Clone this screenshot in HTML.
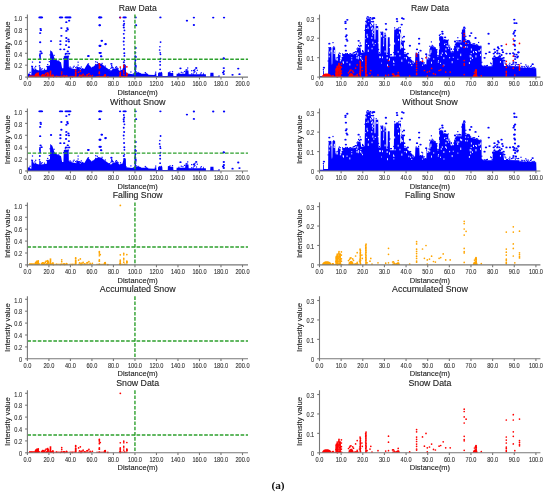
<!DOCTYPE html>
<html><head><meta charset="utf-8"><style>
html,body{margin:0;padding:0;background:#fff;}
svg{display:block;filter:blur(0.45px);}
text{font-family:"Liberation Sans", sans-serif;}
.tk{font-size:6.1px;fill:#333333;stroke:#333333;stroke-width:0.1px;}
.ti{font-size:9.1px;fill:#222;stroke:#222;stroke-width:0.12px;}
.xl{font-size:7.6px;fill:#222;stroke:#222;stroke-width:0.12px;}
</style></head><body>
<svg width="550" height="495" viewBox="0 0 550 495">
<defs><g id="blueL">
<g fill="#0000ff">
<polygon points="27.73,171.00 27.73,167.54 29.91,167.33 30.45,168.63 31.33,168.63 31.55,160.13 33.18,161.54 33.73,163.18 39.18,164.49 39.29,161.00 40.71,161.00 40.82,164.49 46.82,163.73 47.04,159.91 49.98,159.91 50.20,144.09 52.27,145.73 54.45,152.27 57.73,155.00 61.00,156.09 62.09,162.09 63.40,162.09 63.83,150.09 68.63,150.31 68.85,161.00 70.82,162.09 76.27,163.18 76.49,159.91 79.54,161.54 80.00,163.98 82.18,161.80 84.36,162.89 87.64,157.44 89.82,159.62 92.00,161.80 94.18,159.62 98.54,156.89 101.82,157.98 105.09,160.71 108.36,162.89 110.54,165.07 112.73,162.89 117.09,161.80 119.27,164.53 122.54,163.43 123.63,158.53 125.82,158.53 126.03,167.25 134.54,168.34 134.76,153.07 135.85,153.07 136.07,166.38 140.00,166.71 141.55,167.73 148.09,167.73 148.31,168.60 154.64,168.82 154.85,167.18 156.27,167.18 156.49,169.91 157.91,169.91 158.13,166.64 162.27,166.64 162.49,169.91 167.73,169.91 167.94,166.85 173.18,166.85 173.40,169.91 176.45,169.91 176.67,167.73 185.18,167.73 185.40,164.45 188.45,164.45 188.67,168.27 195.00,168.27 196.00,168.27 202.87,168.27 203.09,166.64 203.64,166.64 203.85,168.27 205.82,168.27 206.04,170.45 210.18,170.45 210.40,166.64 213.45,166.64 213.67,170.45 218.36,170.45 218.58,169.04 219.45,169.04 219.67,170.45 219.67,171.00"/>
<rect x="29.5" y="165.7" width="1.2" height="1.2"/>
<rect x="31.1" y="159.6" width="1.2" height="1.2"/>
<rect x="31.9" y="159.8" width="1.2" height="1.2"/>
<rect x="31.9" y="155.4" width="1.2" height="1.2"/>
<rect x="34.3" y="161.3" width="1.2" height="1.2"/>
<rect x="35.1" y="162.8" width="1.2" height="1.2"/>
<rect x="35.1" y="159.7" width="1.2" height="1.2"/>
<rect x="40.7" y="163.1" width="1.2" height="1.2"/>
<rect x="41.5" y="162.0" width="1.2" height="1.2"/>
<rect x="43.9" y="162.6" width="1.2" height="1.2"/>
<rect x="46.3" y="159.9" width="1.2" height="1.2"/>
<rect x="47.1" y="157.9" width="1.2" height="1.2"/>
<rect x="48.7" y="159.3" width="1.2" height="1.2"/>
<rect x="48.7" y="154.9" width="1.2" height="1.2"/>
<rect x="49.5" y="148.2" width="1.2" height="1.2"/>
<rect x="53.5" y="148.7" width="1.2" height="1.2"/>
<rect x="57.5" y="154.2" width="1.2" height="1.2"/>
<rect x="58.3" y="154.7" width="1.2" height="1.2"/>
<rect x="63.1" y="152.0" width="1.2" height="1.2"/>
<rect x="64.7" y="149.4" width="1.2" height="1.2"/>
<rect x="67.1" y="147.1" width="1.2" height="1.2"/>
<rect x="67.1" y="144.8" width="1.2" height="1.2"/>
<rect x="67.9" y="149.5" width="1.2" height="1.2"/>
<rect x="69.5" y="160.3" width="1.2" height="1.2"/>
<rect x="70.3" y="161.3" width="1.2" height="1.2"/>
<rect x="72.7" y="160.6" width="1.2" height="1.2"/>
<rect x="73.5" y="159.6" width="1.2" height="1.2"/>
<rect x="75.1" y="161.0" width="1.2" height="1.2"/>
<rect x="77.5" y="158.4" width="1.2" height="1.2"/>
<rect x="77.5" y="155.5" width="1.2" height="1.2"/>
<rect x="79.1" y="161.1" width="1.2" height="1.2"/>
<rect x="79.9" y="161.9" width="1.2" height="1.2"/>
<rect x="80.7" y="160.3" width="1.2" height="1.2"/>
<rect x="87.9" y="157.2" width="1.2" height="1.2"/>
<rect x="91.9" y="160.7" width="1.2" height="1.2"/>
<rect x="95.1" y="157.8" width="1.2" height="1.2"/>
<rect x="95.1" y="155.1" width="1.2" height="1.2"/>
<rect x="96.7" y="155.7" width="1.2" height="1.2"/>
<rect x="101.5" y="156.7" width="1.2" height="1.2"/>
<rect x="104.7" y="159.4" width="1.2" height="1.2"/>
<rect x="108.7" y="163.0" width="1.2" height="1.2"/>
<rect x="109.5" y="163.7" width="1.2" height="1.2"/>
<rect x="110.3" y="161.7" width="1.2" height="1.2"/>
<rect x="111.1" y="158.8" width="1.2" height="1.2"/>
<rect x="111.9" y="161.1" width="1.2" height="1.2"/>
<rect x="112.7" y="161.3" width="1.2" height="1.2"/>
<rect x="115.1" y="160.7" width="1.2" height="1.2"/>
<rect x="115.9" y="160.1" width="1.2" height="1.2"/>
<rect x="116.7" y="161.4" width="1.2" height="1.2"/>
<rect x="117.5" y="162.1" width="1.2" height="1.2"/>
<rect x="119.9" y="162.2" width="1.2" height="1.2"/>
<rect x="125.5" y="166.3" width="1.2" height="1.2"/>
<rect x="130.3" y="165.3" width="1.2" height="1.2"/>
<rect x="132.7" y="167.4" width="1.2" height="1.2"/>
<rect x="133.5" y="167.3" width="1.2" height="1.2"/>
<rect x="135.1" y="150.7" width="1.2" height="1.2"/>
<rect x="137.5" y="165.8" width="1.2" height="1.2"/>
<rect x="144.7" y="165.9" width="1.2" height="1.2"/>
<rect x="145.5" y="166.8" width="1.2" height="1.2"/>
<rect x="155.1" y="165.5" width="1.2" height="1.2"/>
<rect x="160.7" y="165.8" width="1.2" height="1.2"/>
<rect x="167.9" y="166.2" width="1.2" height="1.2"/>
<rect x="168.7" y="166.0" width="1.2" height="1.2"/>
<rect x="169.5" y="165.3" width="1.2" height="1.2"/>
<rect x="171.9" y="165.0" width="1.2" height="1.2"/>
<rect x="178.3" y="166.7" width="1.2" height="1.2"/>
<rect x="180.7" y="165.6" width="1.2" height="1.2"/>
<rect x="182.3" y="166.1" width="1.2" height="1.2"/>
<rect x="183.9" y="164.8" width="1.2" height="1.2"/>
<rect x="185.5" y="163.3" width="1.2" height="1.2"/>
<rect x="186.3" y="162.9" width="1.2" height="1.2"/>
<rect x="187.1" y="161.3" width="1.2" height="1.2"/>
<rect x="191.1" y="167.2" width="1.2" height="1.2"/>
<rect x="191.1" y="164.0" width="1.2" height="1.2"/>
<rect x="192.7" y="167.4" width="1.2" height="1.2"/>
<rect x="193.5" y="165.9" width="1.2" height="1.2"/>
<rect x="194.3" y="164.8" width="1.2" height="1.2"/>
<rect x="194.3" y="162.8" width="1.2" height="1.2"/>
<rect x="195.9" y="166.4" width="1.2" height="1.2"/>
<rect x="196.7" y="163.6" width="1.2" height="1.2"/>
<rect x="199.9" y="167.4" width="1.2" height="1.2"/>
<rect x="200.7" y="166.1" width="1.2" height="1.2"/>
</g>
<g fill="#fff">
</g>
<g fill="#0000ff">
<ellipse cx="39.45" cy="111.37" rx="1.15" ry="0.9"/>
<ellipse cx="40.30" cy="111.37" rx="1.15" ry="0.9"/>
<ellipse cx="41.15" cy="111.37" rx="1.15" ry="0.9"/>
<ellipse cx="42.00" cy="111.37" rx="1.15" ry="0.9"/>
<ellipse cx="40.58" cy="122.69" rx="1.15" ry="0.9"/>
<ellipse cx="40.87" cy="124.10" rx="1.15" ry="0.9"/>
<ellipse cx="40.16" cy="126.93" rx="1.15" ry="0.9"/>
<ellipse cx="40.16" cy="136.13" rx="1.15" ry="0.9"/>
<ellipse cx="40.58" cy="145.33" rx="1.15" ry="0.9"/>
<ellipse cx="41.57" cy="147.17" rx="1.15" ry="0.9"/>
<ellipse cx="51.05" cy="135.00" rx="1.15" ry="0.9"/>
<ellipse cx="59.97" cy="111.37" rx="1.15" ry="0.9"/>
<ellipse cx="60.96" cy="111.37" rx="1.15" ry="0.9"/>
<ellipse cx="62.09" cy="111.37" rx="1.15" ry="0.9"/>
<ellipse cx="61.38" cy="121.98" rx="1.15" ry="0.9"/>
<ellipse cx="61.38" cy="129.76" rx="1.15" ry="0.9"/>
<ellipse cx="60.39" cy="135.00" rx="1.15" ry="0.9"/>
<ellipse cx="60.39" cy="138.25" rx="1.15" ry="0.9"/>
<ellipse cx="60.39" cy="143.21" rx="1.15" ry="0.9"/>
<ellipse cx="64.21" cy="143.21" rx="1.15" ry="0.9"/>
<ellipse cx="65.63" cy="111.37" rx="1.15" ry="0.9"/>
<ellipse cx="66.62" cy="111.37" rx="1.15" ry="0.9"/>
<ellipse cx="67.61" cy="111.37" rx="1.15" ry="0.9"/>
<ellipse cx="68.60" cy="111.37" rx="1.15" ry="0.9"/>
<ellipse cx="69.59" cy="111.37" rx="1.15" ry="0.9"/>
<ellipse cx="70.30" cy="111.37" rx="1.15" ry="0.9"/>
<ellipse cx="69.17" cy="114.62" rx="1.15" ry="0.9"/>
<ellipse cx="66.34" cy="116.04" rx="1.15" ry="0.9"/>
<ellipse cx="67.33" cy="121.98" rx="1.15" ry="0.9"/>
<ellipse cx="67.75" cy="123.40" rx="1.15" ry="0.9"/>
<ellipse cx="66.34" cy="124.81" rx="1.15" ry="0.9"/>
<ellipse cx="66.34" cy="131.89" rx="1.15" ry="0.9"/>
<ellipse cx="68.46" cy="133.30" rx="1.15" ry="0.9"/>
<ellipse cx="68.88" cy="135.42" rx="1.15" ry="0.9"/>
<ellipse cx="66.34" cy="135.00" rx="1.15" ry="0.9"/>
<ellipse cx="66.05" cy="138.96" rx="1.15" ry="0.9"/>
<ellipse cx="68.88" cy="141.08" rx="1.15" ry="0.9"/>
<ellipse cx="67.75" cy="145.33" rx="1.15" ry="0.9"/>
<ellipse cx="66.05" cy="147.45" rx="1.15" ry="0.9"/>
<ellipse cx="69.17" cy="147.45" rx="1.15" ry="0.9"/>
<ellipse cx="67.04" cy="150.28" rx="1.15" ry="0.9"/>
<ellipse cx="88.27" cy="150.00" rx="1.15" ry="0.9"/>
<ellipse cx="99.59" cy="111.37" rx="1.15" ry="0.9"/>
<ellipse cx="99.59" cy="119.15" rx="1.15" ry="0.9"/>
<ellipse cx="99.59" cy="139.67" rx="1.15" ry="0.9"/>
<ellipse cx="99.59" cy="146.74" rx="1.15" ry="0.9"/>
<ellipse cx="99.26" cy="111.37" rx="1.15" ry="0.9"/>
<ellipse cx="100.25" cy="111.37" rx="1.15" ry="0.9"/>
<ellipse cx="101.24" cy="111.37" rx="1.15" ry="0.9"/>
<ellipse cx="99.83" cy="119.15" rx="1.15" ry="0.9"/>
<ellipse cx="101.67" cy="134.72" rx="1.15" ry="0.9"/>
<ellipse cx="100.25" cy="139.67" rx="1.15" ry="0.9"/>
<ellipse cx="105.49" cy="138.25" rx="1.15" ry="0.9"/>
<ellipse cx="100.68" cy="146.74" rx="1.15" ry="0.9"/>
<ellipse cx="101.24" cy="150.28" rx="1.15" ry="0.9"/>
<ellipse cx="120.06" cy="111.37" rx="1.15" ry="0.9"/>
<ellipse cx="123.60" cy="111.37" rx="1.15" ry="0.9"/>
<ellipse cx="124.59" cy="111.37" rx="1.15" ry="0.9"/>
<ellipse cx="125.58" cy="111.37" rx="1.15" ry="0.9"/>
<ellipse cx="135.63" cy="111.37" rx="1.15" ry="0.9"/>
<ellipse cx="136.05" cy="119.15" rx="1.15" ry="0.9"/>
<ellipse cx="160.39" cy="111.37" rx="1.15" ry="0.9"/>
<ellipse cx="186.94" cy="114.58" rx="1.15" ry="0.9"/>
<ellipse cx="193.89" cy="111.49" rx="1.15" ry="0.9"/>
<ellipse cx="193.89" cy="118.91" rx="1.15" ry="0.9"/>
<ellipse cx="213.21" cy="111.49" rx="1.15" ry="0.9"/>
<ellipse cx="224.03" cy="111.49" rx="1.15" ry="0.9"/>
<ellipse cx="223.72" cy="152.14" rx="1.15" ry="0.9"/>
<ellipse cx="180.45" cy="162.19" rx="1.15" ry="0.9"/>
<ellipse cx="196.21" cy="161.88" rx="1.15" ry="0.9"/>
<ellipse cx="193.89" cy="164.51" rx="1.15" ry="0.9"/>
<ellipse cx="186.94" cy="165.28" rx="1.15" ry="0.9"/>
<ellipse cx="238.25" cy="162.50" rx="1.15" ry="0.9"/>
<ellipse cx="239.49" cy="168.06" rx="1.15" ry="0.9"/>
<ellipse cx="232.53" cy="168.68" rx="1.15" ry="0.9"/>
<ellipse cx="88.48" cy="149.87" rx="1.15" ry="0.9"/>
<ellipse cx="101.90" cy="134.60" rx="1.15" ry="0.9"/>
<ellipse cx="105.61" cy="137.87" rx="1.15" ry="0.9"/>
<ellipse cx="100.15" cy="139.73" rx="1.15" ry="0.9"/>
<ellipse cx="100.15" cy="146.82" rx="1.15" ry="0.9"/>
<ellipse cx="101.03" cy="150.09" rx="1.15" ry="0.9"/>
<ellipse cx="111.39" cy="157.73" rx="1.15" ry="0.9"/>
<ellipse cx="111.94" cy="161.00" rx="1.15" ry="0.9"/>
<ellipse cx="111.39" cy="166.45" rx="1.15" ry="0.9"/>
<ellipse cx="223.80" cy="152.60" rx="1.15" ry="0.9"/>
<ellipse cx="223.80" cy="162.00" rx="1.15" ry="0.9"/>
<ellipse cx="223.90" cy="165.00" rx="1.15" ry="0.9"/>
<ellipse cx="223.80" cy="168.00" rx="1.15" ry="0.9"/>
<ellipse cx="223.10" cy="166.50" rx="1.15" ry="0.9"/>
<circle cx="123.84" cy="115.00" r="0.94"/>
<circle cx="124.20" cy="117.58" r="0.96"/>
<circle cx="123.61" cy="119.19" r="1.01"/>
<circle cx="123.83" cy="121.42" r="1.05"/>
<circle cx="124.44" cy="124.33" r="0.92"/>
<circle cx="123.75" cy="127.77" r="0.96"/>
<circle cx="124.12" cy="131.95" r="0.99"/>
<circle cx="123.66" cy="135.50" r="0.99"/>
<circle cx="123.90" cy="138.79" r="0.81"/>
<circle cx="124.07" cy="142.96" r="0.98"/>
<circle cx="124.31" cy="147.17" r="1.03"/>
<circle cx="124.40" cy="149.84" r="0.91"/>
<circle cx="124.48" cy="154.23" r="0.82"/>
<circle cx="123.82" cy="156.07" r="1.04"/>
<circle cx="124.23" cy="158.86" r="0.88"/>
<circle cx="123.99" cy="161.88" r="0.89"/>
<circle cx="124.18" cy="165.16" r="1.03"/>
<circle cx="135.73" cy="142.00" r="1.01"/>
<circle cx="135.47" cy="146.57" r="0.84"/>
<circle cx="135.76" cy="150.73" r="1.03"/>
<circle cx="135.51" cy="153.95" r="0.85"/>
<circle cx="135.37" cy="158.01" r="0.87"/>
<circle cx="135.65" cy="159.61" r="1.05"/>
<circle cx="135.60" cy="161.29" r="0.90"/>
<circle cx="135.09" cy="163.18" r="0.99"/>
<circle cx="134.84" cy="167.37" r="0.95"/>
<circle cx="135.52" cy="168.91" r="0.88"/>
<circle cx="160.58" cy="136.00" r="0.93"/>
<circle cx="159.91" cy="140.60" r="0.82"/>
<circle cx="159.63" cy="143.91" r="0.85"/>
<circle cx="160.21" cy="146.62" r="0.84"/>
<circle cx="160.47" cy="148.16" r="0.88"/>
<circle cx="160.50" cy="152.62" r="0.89"/>
<circle cx="160.12" cy="155.50" r="0.96"/>
<circle cx="160.16" cy="158.80" r="0.96"/>
<circle cx="160.11" cy="163.21" r="0.91"/>
<circle cx="159.84" cy="166.92" r="0.88"/>
<circle cx="40.02" cy="148.00" r="0.94"/>
<circle cx="39.92" cy="149.44" r="0.94"/>
<circle cx="40.12" cy="150.90" r="0.96"/>
<circle cx="40.13" cy="152.49" r="0.92"/>
<circle cx="39.85" cy="156.07" r="0.98"/>
<circle cx="39.52" cy="159.83" r="0.82"/>
<circle cx="65.46" cy="148.00" r="0.86"/>
<circle cx="65.09" cy="150.86" r="0.88"/>
<circle cx="64.81" cy="153.42" r="0.89"/>
<circle cx="64.80" cy="156.73" r="0.89"/>
<circle cx="135.13" cy="150.00" r="0.94"/>
<circle cx="135.41" cy="153.75" r="0.86"/>
<circle cx="135.34" cy="157.72" r="0.85"/>
<circle cx="135.80" cy="160.52" r="0.83"/>
<circle cx="135.43" cy="162.95" r="1.01"/>
<circle cx="135.96" cy="165.75" r="0.84"/>
<circle cx="135.75" cy="168.23" r="1.02"/>
</g></g>
<g id="blueR">
<g fill="#0000ff">
<polygon points="319.42,171.00 319.42,169.81 323.09,169.81 323.16,164.43 323.94,164.43 324.01,168.96 328.05,168.96 328.33,147.45 328.75,141.79 331.44,141.79 331.73,158.77 332.29,158.77 332.57,141.08 335.12,141.08 335.40,154.53 337.67,154.53 337.95,148.87 340.50,148.87 340.78,153.11 341.91,153.11 342.20,148.16 346.30,147.45 351.96,148.58 356.21,147.45 357.62,142.07 360.45,141.51 361.16,146.74 364.55,146.74 365.12,119.15 366.82,112.36 370.64,112.08 371.21,120.57 371.42,119.15 374.25,119.15 374.53,133.30 375.38,133.30 375.66,119.86 378.21,119.86 378.63,147.45 380.47,147.45 380.75,126.23 383.30,126.23 383.58,140.38 384.01,140.38 384.29,128.35 386.13,128.35 386.41,148.87 387.55,148.87 387.83,131.18 389.67,131.18 389.95,150.28 393.77,150.28 394.20,123.40 400.99,123.40 401.27,136.13 403.82,136.13 404.10,147.45 406.79,148.87 412.45,154.53 412.73,157.36 415.00,157.36 415.42,147.45 419.24,147.45 419.67,155.94 423.49,155.94 423.91,158.77 426.32,158.77 426.74,147.45 427.12,153.11 429.25,153.11 429.53,143.21 430.66,140.38 432.08,140.38 436.89,143.21 437.17,150.28 438.87,150.28 439.15,130.47 443.25,130.47 443.54,134.01 448.21,134.01 448.49,140.38 450.33,140.38 450.61,146.04 453.87,146.04 454.15,140.38 455.28,140.38 455.56,136.13 461.65,136.13 461.93,123.40 465.19,123.40 465.47,134.72 470.14,134.72 470.42,137.55 475.94,138.96 480.75,140.38 481.04,141.79 481.42,138.26 481.70,158.79 483.54,160.20 492.46,160.20 492.74,153.83 494.15,151.71 496.99,150.58 499.82,151.43 503.35,153.83 504.06,159.92 519.35,160.20 519.63,161.62 533.50,161.90 533.79,162.04 536.19,162.18 536.48,169.83 536.48,171.00"/>
<rect x="322.8" y="162.9" width="1.2" height="1.2"/>
<rect x="327.6" y="154.3" width="1.2" height="1.2"/>
<rect x="328.4" y="140.9" width="1.2" height="1.2"/>
<rect x="329.2" y="141.2" width="1.2" height="1.2"/>
<rect x="330.0" y="140.9" width="1.2" height="1.2"/>
<rect x="331.6" y="157.7" width="1.2" height="1.2"/>
<rect x="332.4" y="135.9" width="1.2" height="1.2"/>
<rect x="333.2" y="140.1" width="1.2" height="1.2"/>
<rect x="334.8" y="153.5" width="1.2" height="1.2"/>
<rect x="335.6" y="153.5" width="1.2" height="1.2"/>
<rect x="335.6" y="151.3" width="1.2" height="1.2"/>
<rect x="337.2" y="150.9" width="1.2" height="1.2"/>
<rect x="338.0" y="147.7" width="1.2" height="1.2"/>
<rect x="338.8" y="146.4" width="1.2" height="1.2"/>
<rect x="339.6" y="147.0" width="1.2" height="1.2"/>
<rect x="341.2" y="151.3" width="1.2" height="1.2"/>
<rect x="342.0" y="147.2" width="1.2" height="1.2"/>
<rect x="345.2" y="146.9" width="1.2" height="1.2"/>
<rect x="346.8" y="146.9" width="1.2" height="1.2"/>
<rect x="349.2" y="147.2" width="1.2" height="1.2"/>
<rect x="350.0" y="147.1" width="1.2" height="1.2"/>
<rect x="350.8" y="147.7" width="1.2" height="1.2"/>
<rect x="351.6" y="147.9" width="1.2" height="1.2"/>
<rect x="352.4" y="146.6" width="1.2" height="1.2"/>
<rect x="353.2" y="146.0" width="1.2" height="1.2"/>
<rect x="354.0" y="145.9" width="1.2" height="1.2"/>
<rect x="354.8" y="145.0" width="1.2" height="1.2"/>
<rect x="355.6" y="145.0" width="1.2" height="1.2"/>
<rect x="356.4" y="142.3" width="1.2" height="1.2"/>
<rect x="357.2" y="141.3" width="1.2" height="1.2"/>
<rect x="358.0" y="138.8" width="1.2" height="1.2"/>
<rect x="358.8" y="140.0" width="1.2" height="1.2"/>
<rect x="359.6" y="136.3" width="1.2" height="1.2"/>
<rect x="362.0" y="144.9" width="1.2" height="1.2"/>
<rect x="362.0" y="143.9" width="1.2" height="1.2"/>
<rect x="362.8" y="145.2" width="1.2" height="1.2"/>
<rect x="363.6" y="146.1" width="1.2" height="1.2"/>
<rect x="364.4" y="123.7" width="1.2" height="1.2"/>
<rect x="365.2" y="114.7" width="1.2" height="1.2"/>
<rect x="366.0" y="111.5" width="1.2" height="1.2"/>
<rect x="366.8" y="110.2" width="1.2" height="1.2"/>
<rect x="367.6" y="110.2" width="1.2" height="1.2"/>
<rect x="368.4" y="110.8" width="1.2" height="1.2"/>
<rect x="370.0" y="110.9" width="1.2" height="1.2"/>
<rect x="370.8" y="117.7" width="1.2" height="1.2"/>
<rect x="370.8" y="115.0" width="1.2" height="1.2"/>
<rect x="373.2" y="117.5" width="1.2" height="1.2"/>
<rect x="375.6" y="118.1" width="1.2" height="1.2"/>
<rect x="378.0" y="142.8" width="1.2" height="1.2"/>
<rect x="378.8" y="146.0" width="1.2" height="1.2"/>
<rect x="380.4" y="125.5" width="1.2" height="1.2"/>
<rect x="382.0" y="125.5" width="1.2" height="1.2"/>
<rect x="382.8" y="130.5" width="1.2" height="1.2"/>
<rect x="384.4" y="126.6" width="1.2" height="1.2"/>
<rect x="386.8" y="146.6" width="1.2" height="1.2"/>
<rect x="389.2" y="138.3" width="1.2" height="1.2"/>
<rect x="390.0" y="148.1" width="1.2" height="1.2"/>
<rect x="390.8" y="148.0" width="1.2" height="1.2"/>
<rect x="393.2" y="145.9" width="1.2" height="1.2"/>
<rect x="394.0" y="121.2" width="1.2" height="1.2"/>
<rect x="396.4" y="122.5" width="1.2" height="1.2"/>
<rect x="397.2" y="122.7" width="1.2" height="1.2"/>
<rect x="398.0" y="121.3" width="1.2" height="1.2"/>
<rect x="399.6" y="120.7" width="1.2" height="1.2"/>
<rect x="401.2" y="134.3" width="1.2" height="1.2"/>
<rect x="402.0" y="134.9" width="1.2" height="1.2"/>
<rect x="402.0" y="131.1" width="1.2" height="1.2"/>
<rect x="402.8" y="135.3" width="1.2" height="1.2"/>
<rect x="404.4" y="145.9" width="1.2" height="1.2"/>
<rect x="405.2" y="147.6" width="1.2" height="1.2"/>
<rect x="406.0" y="147.9" width="1.2" height="1.2"/>
<rect x="406.8" y="147.0" width="1.2" height="1.2"/>
<rect x="409.2" y="150.9" width="1.2" height="1.2"/>
<rect x="410.0" y="151.0" width="1.2" height="1.2"/>
<rect x="412.4" y="154.8" width="1.2" height="1.2"/>
<rect x="413.2" y="156.0" width="1.2" height="1.2"/>
<rect x="414.0" y="156.7" width="1.2" height="1.2"/>
<rect x="415.6" y="146.4" width="1.2" height="1.2"/>
<rect x="418.0" y="145.8" width="1.2" height="1.2"/>
<rect x="419.6" y="155.0" width="1.2" height="1.2"/>
<rect x="420.4" y="155.0" width="1.2" height="1.2"/>
<rect x="421.2" y="151.7" width="1.2" height="1.2"/>
<rect x="422.0" y="154.7" width="1.2" height="1.2"/>
<rect x="422.0" y="152.3" width="1.2" height="1.2"/>
<rect x="423.6" y="156.2" width="1.2" height="1.2"/>
<rect x="424.4" y="158.0" width="1.2" height="1.2"/>
<rect x="425.2" y="158.0" width="1.2" height="1.2"/>
<rect x="426.0" y="149.4" width="1.2" height="1.2"/>
<rect x="427.6" y="151.3" width="1.2" height="1.2"/>
<rect x="428.4" y="151.8" width="1.2" height="1.2"/>
<rect x="428.4" y="148.4" width="1.2" height="1.2"/>
<rect x="429.2" y="139.6" width="1.2" height="1.2"/>
<rect x="430.8" y="135.2" width="1.2" height="1.2"/>
<rect x="431.6" y="138.7" width="1.2" height="1.2"/>
<rect x="432.4" y="139.6" width="1.2" height="1.2"/>
<rect x="433.2" y="140.4" width="1.2" height="1.2"/>
<rect x="434.0" y="141.1" width="1.2" height="1.2"/>
<rect x="434.8" y="141.4" width="1.2" height="1.2"/>
<rect x="436.4" y="145.4" width="1.2" height="1.2"/>
<rect x="436.4" y="143.1" width="1.2" height="1.2"/>
<rect x="437.2" y="148.8" width="1.2" height="1.2"/>
<rect x="438.0" y="149.2" width="1.2" height="1.2"/>
<rect x="438.8" y="128.7" width="1.2" height="1.2"/>
<rect x="439.6" y="127.8" width="1.2" height="1.2"/>
<rect x="440.4" y="129.8" width="1.2" height="1.2"/>
<rect x="443.6" y="132.9" width="1.2" height="1.2"/>
<rect x="445.2" y="133.2" width="1.2" height="1.2"/>
<rect x="447.6" y="133.3" width="1.2" height="1.2"/>
<rect x="448.4" y="138.6" width="1.2" height="1.2"/>
<rect x="450.0" y="145.3" width="1.2" height="1.2"/>
<rect x="450.8" y="142.6" width="1.2" height="1.2"/>
<rect x="450.8" y="142.3" width="1.2" height="1.2"/>
<rect x="451.6" y="144.7" width="1.2" height="1.2"/>
<rect x="452.4" y="145.4" width="1.2" height="1.2"/>
<rect x="453.2" y="145.2" width="1.2" height="1.2"/>
<rect x="453.2" y="142.5" width="1.2" height="1.2"/>
<rect x="454.0" y="139.6" width="1.2" height="1.2"/>
<rect x="454.8" y="137.8" width="1.2" height="1.2"/>
<rect x="456.4" y="133.9" width="1.2" height="1.2"/>
<rect x="457.2" y="135.3" width="1.2" height="1.2"/>
<rect x="457.2" y="131.0" width="1.2" height="1.2"/>
<rect x="459.6" y="134.0" width="1.2" height="1.2"/>
<rect x="460.4" y="134.5" width="1.2" height="1.2"/>
<rect x="461.2" y="126.4" width="1.2" height="1.2"/>
<rect x="462.8" y="122.2" width="1.2" height="1.2"/>
<rect x="463.6" y="122.7" width="1.2" height="1.2"/>
<rect x="464.4" y="121.7" width="1.2" height="1.2"/>
<rect x="465.2" y="133.0" width="1.2" height="1.2"/>
<rect x="465.2" y="129.7" width="1.2" height="1.2"/>
<rect x="466.8" y="133.9" width="1.2" height="1.2"/>
<rect x="467.6" y="133.8" width="1.2" height="1.2"/>
<rect x="468.4" y="134.0" width="1.2" height="1.2"/>
<rect x="470.0" y="136.3" width="1.2" height="1.2"/>
<rect x="472.4" y="137.1" width="1.2" height="1.2"/>
<rect x="473.2" y="137.1" width="1.2" height="1.2"/>
<rect x="474.0" y="137.2" width="1.2" height="1.2"/>
<rect x="475.6" y="138.1" width="1.2" height="1.2"/>
<rect x="476.4" y="138.1" width="1.2" height="1.2"/>
<rect x="477.2" y="138.8" width="1.2" height="1.2"/>
<rect x="478.0" y="135.8" width="1.2" height="1.2"/>
<rect x="479.6" y="139.5" width="1.2" height="1.2"/>
<rect x="480.4" y="140.3" width="1.2" height="1.2"/>
<rect x="481.2" y="155.6" width="1.2" height="1.2"/>
<rect x="483.6" y="159.2" width="1.2" height="1.2"/>
<rect x="484.4" y="159.5" width="1.2" height="1.2"/>
<rect x="485.2" y="159.6" width="1.2" height="1.2"/>
<rect x="486.0" y="159.1" width="1.2" height="1.2"/>
<rect x="486.8" y="158.8" width="1.2" height="1.2"/>
<rect x="490.0" y="156.4" width="1.2" height="1.2"/>
<rect x="490.8" y="157.1" width="1.2" height="1.2"/>
<rect x="491.6" y="159.1" width="1.2" height="1.2"/>
<rect x="492.4" y="152.7" width="1.2" height="1.2"/>
<rect x="493.2" y="151.5" width="1.2" height="1.2"/>
<rect x="494.0" y="149.6" width="1.2" height="1.2"/>
<rect x="497.2" y="146.0" width="1.2" height="1.2"/>
<rect x="498.0" y="150.4" width="1.2" height="1.2"/>
<rect x="498.8" y="149.1" width="1.2" height="1.2"/>
<rect x="499.6" y="150.1" width="1.2" height="1.2"/>
<rect x="501.2" y="152.0" width="1.2" height="1.2"/>
<rect x="502.0" y="151.7" width="1.2" height="1.2"/>
<rect x="502.8" y="153.4" width="1.2" height="1.2"/>
<rect x="504.4" y="156.3" width="1.2" height="1.2"/>
<rect x="505.2" y="157.3" width="1.2" height="1.2"/>
<rect x="506.0" y="159.1" width="1.2" height="1.2"/>
<rect x="506.8" y="159.0" width="1.2" height="1.2"/>
<rect x="508.4" y="158.3" width="1.2" height="1.2"/>
<rect x="509.2" y="158.7" width="1.2" height="1.2"/>
<rect x="509.2" y="156.6" width="1.2" height="1.2"/>
<rect x="510.8" y="158.0" width="1.2" height="1.2"/>
<rect x="511.6" y="157.9" width="1.2" height="1.2"/>
<rect x="512.4" y="156.9" width="1.2" height="1.2"/>
<rect x="513.2" y="157.4" width="1.2" height="1.2"/>
<rect x="514.8" y="158.6" width="1.2" height="1.2"/>
<rect x="515.6" y="157.6" width="1.2" height="1.2"/>
<rect x="517.2" y="158.0" width="1.2" height="1.2"/>
<rect x="518.0" y="157.9" width="1.2" height="1.2"/>
<rect x="520.4" y="160.8" width="1.2" height="1.2"/>
<rect x="520.4" y="156.7" width="1.2" height="1.2"/>
<rect x="521.2" y="159.7" width="1.2" height="1.2"/>
<rect x="522.0" y="160.3" width="1.2" height="1.2"/>
<rect x="523.6" y="159.9" width="1.2" height="1.2"/>
<rect x="524.4" y="160.6" width="1.2" height="1.2"/>
<rect x="525.2" y="158.2" width="1.2" height="1.2"/>
<rect x="526.0" y="159.6" width="1.2" height="1.2"/>
<rect x="526.8" y="160.8" width="1.2" height="1.2"/>
<rect x="527.6" y="159.5" width="1.2" height="1.2"/>
<rect x="528.4" y="160.8" width="1.2" height="1.2"/>
<rect x="530.0" y="160.0" width="1.2" height="1.2"/>
<rect x="530.8" y="159.1" width="1.2" height="1.2"/>
<rect x="531.6" y="161.0" width="1.2" height="1.2"/>
<rect x="533.2" y="160.8" width="1.2" height="1.2"/>
<rect x="534.0" y="161.2" width="1.2" height="1.2"/>
</g>
<g fill="#fff">
<rect x="329.3" y="145.4" width="0.9" height="2.1"/>
<rect x="328.7" y="149.6" width="0.9" height="1.6"/>
<rect x="330.7" y="143.9" width="0.9" height="2.1"/>
<rect x="333.6" y="146.2" width="0.9" height="1.6"/>
<rect x="334.3" y="146.7" width="0.9" height="1.0"/>
<rect x="333.9" y="143.8" width="0.9" height="2.3"/>
<rect x="340.3" y="151.2" width="0.9" height="1.6"/>
<rect x="340.4" y="151.9" width="0.9" height="2.3"/>
<rect x="339.9" y="153.9" width="0.9" height="1.4"/>
<rect x="342.2" y="149.8" width="0.9" height="0.9"/>
<rect x="342.7" y="155.0" width="0.9" height="2.0"/>
<rect x="343.1" y="155.9" width="0.9" height="1.7"/>
<rect x="346.6" y="155.5" width="0.9" height="1.3"/>
<rect x="349.4" y="157.5" width="0.9" height="1.9"/>
<rect x="351.3" y="153.2" width="0.9" height="1.2"/>
<rect x="351.3" y="151.2" width="0.9" height="0.9"/>
<rect x="356.4" y="148.7" width="0.9" height="1.3"/>
<rect x="356.5" y="150.7" width="0.9" height="2.0"/>
<rect x="357.3" y="146.4" width="0.9" height="2.1"/>
<rect x="357.8" y="151.0" width="0.9" height="2.2"/>
<rect x="358.2" y="150.1" width="0.9" height="1.2"/>
<rect x="360.3" y="151.0" width="0.9" height="1.8"/>
<rect x="359.9" y="150.8" width="0.9" height="1.2"/>
<rect x="360.5" y="149.0" width="0.9" height="1.0"/>
<rect x="361.3" y="152.6" width="0.9" height="1.0"/>
<rect x="362.0" y="153.9" width="0.9" height="1.3"/>
<rect x="365.2" y="132.2" width="0.9" height="0.9"/>
<rect x="365.6" y="116.6" width="0.9" height="2.0"/>
<rect x="366.2" y="136.7" width="0.9" height="1.2"/>
<rect x="365.9" y="121.9" width="0.9" height="0.9"/>
<rect x="366.6" y="127.8" width="0.9" height="2.3"/>
<rect x="367.2" y="130.0" width="0.9" height="1.6"/>
<rect x="367.8" y="143.5" width="0.9" height="2.4"/>
<rect x="367.6" y="120.5" width="0.9" height="2.4"/>
<rect x="368.3" y="115.1" width="0.9" height="0.9"/>
<rect x="368.1" y="138.9" width="0.9" height="1.5"/>
<rect x="369.9" y="118.1" width="0.9" height="0.9"/>
<rect x="370.3" y="118.6" width="0.9" height="1.9"/>
<rect x="371.4" y="131.0" width="0.9" height="1.8"/>
<rect x="371.0" y="122.0" width="0.9" height="1.6"/>
<rect x="371.9" y="125.0" width="0.9" height="2.3"/>
<rect x="372.4" y="135.5" width="0.9" height="2.1"/>
<rect x="371.8" y="120.7" width="0.9" height="1.3"/>
<rect x="372.0" y="128.4" width="0.9" height="1.0"/>
<rect x="372.4" y="121.9" width="0.9" height="1.3"/>
<rect x="371.6" y="141.7" width="0.9" height="1.5"/>
<rect x="373.4" y="138.5" width="0.9" height="1.2"/>
<rect x="373.3" y="126.7" width="0.9" height="1.2"/>
<rect x="372.7" y="123.2" width="0.9" height="1.9"/>
<rect x="374.8" y="136.9" width="0.9" height="1.1"/>
<rect x="376.4" y="121.9" width="0.9" height="2.1"/>
<rect x="377.2" y="122.0" width="0.9" height="1.8"/>
<rect x="377.9" y="136.0" width="0.9" height="1.3"/>
<rect x="379.3" y="150.0" width="0.9" height="2.1"/>
<rect x="380.0" y="150.4" width="0.9" height="1.4"/>
<rect x="381.0" y="156.6" width="0.9" height="0.8"/>
<rect x="381.2" y="128.9" width="0.9" height="2.2"/>
<rect x="382.1" y="150.4" width="0.9" height="1.8"/>
<rect x="383.1" y="138.5" width="0.9" height="1.3"/>
<rect x="385.0" y="130.6" width="0.9" height="0.9"/>
<rect x="384.6" y="144.5" width="0.9" height="1.8"/>
<rect x="387.0" y="158.2" width="0.9" height="2.0"/>
<rect x="386.7" y="150.9" width="0.9" height="2.1"/>
<rect x="389.3" y="140.8" width="0.9" height="1.1"/>
<rect x="389.1" y="152.3" width="0.9" height="2.3"/>
<rect x="393.1" y="154.5" width="0.9" height="1.8"/>
<rect x="393.4" y="158.3" width="0.9" height="1.1"/>
<rect x="394.2" y="136.5" width="0.9" height="2.0"/>
<rect x="393.5" y="155.5" width="0.9" height="1.4"/>
<rect x="394.6" y="149.0" width="0.9" height="1.4"/>
<rect x="397.4" y="128.3" width="0.9" height="1.0"/>
<rect x="398.2" y="132.8" width="0.9" height="1.8"/>
<rect x="397.7" y="144.8" width="0.9" height="1.8"/>
<rect x="398.0" y="132.9" width="0.9" height="1.4"/>
<rect x="399.1" y="125.4" width="0.9" height="2.1"/>
<rect x="400.1" y="126.4" width="0.7" height="16.8"/>
<rect x="400.2" y="128.0" width="0.9" height="1.2"/>
<rect x="399.5" y="148.8" width="0.9" height="1.6"/>
<rect x="400.0" y="131.5" width="0.9" height="2.1"/>
<rect x="400.1" y="133.7" width="0.9" height="1.4"/>
<rect x="401.4" y="153.6" width="0.9" height="2.1"/>
<rect x="401.4" y="139.9" width="0.9" height="2.2"/>
<rect x="401.1" y="138.5" width="0.9" height="1.3"/>
<rect x="400.7" y="139.3" width="0.9" height="2.1"/>
<rect x="402.2" y="140.1" width="0.9" height="1.6"/>
<rect x="404.5" y="151.1" width="0.9" height="1.0"/>
<rect x="406.1" y="151.0" width="0.9" height="2.2"/>
<rect x="408.4" y="155.6" width="0.9" height="1.6"/>
<rect x="410.2" y="156.5" width="0.9" height="1.4"/>
<rect x="411.3" y="158.8" width="0.9" height="1.2"/>
<rect x="422.0" y="158.6" width="0.9" height="1.0"/>
<rect x="429.3" y="150.3" width="0.9" height="1.7"/>
<rect x="430.4" y="145.7" width="0.9" height="1.3"/>
<rect x="429.5" y="146.5" width="0.9" height="2.1"/>
<rect x="430.5" y="143.7" width="0.9" height="2.3"/>
<rect x="431.0" y="155.6" width="0.9" height="2.0"/>
<rect x="433.3" y="152.2" width="0.9" height="1.4"/>
<rect x="438.1" y="154.1" width="0.9" height="1.0"/>
<rect x="437.8" y="155.4" width="0.9" height="1.2"/>
<rect x="438.7" y="141.9" width="0.9" height="1.4"/>
<rect x="438.8" y="140.3" width="0.9" height="1.3"/>
<rect x="438.9" y="134.5" width="0.9" height="2.3"/>
<rect x="440.1" y="156.6" width="0.9" height="1.3"/>
<rect x="440.8" y="148.2" width="0.9" height="1.6"/>
<rect x="441.8" y="146.3" width="0.9" height="1.6"/>
<rect x="443.4" y="151.1" width="0.9" height="1.9"/>
<rect x="443.5" y="158.4" width="0.9" height="1.2"/>
<rect x="444.1" y="137.5" width="0.9" height="1.4"/>
<rect x="445.3" y="146.0" width="0.9" height="2.0"/>
<rect x="446.1" y="147.3" width="0.9" height="1.5"/>
<rect x="445.9" y="139.4" width="0.9" height="1.0"/>
<rect x="445.6" y="137.1" width="0.9" height="0.8"/>
<rect x="445.5" y="142.2" width="0.9" height="2.0"/>
<rect x="447.2" y="139.4" width="0.9" height="1.5"/>
<rect x="448.2" y="141.4" width="0.9" height="1.4"/>
<rect x="449.2" y="150.9" width="0.9" height="1.3"/>
<rect x="451.7" y="155.0" width="0.9" height="2.1"/>
<rect x="452.8" y="150.7" width="0.9" height="1.1"/>
<rect x="457.4" y="152.6" width="0.9" height="1.0"/>
<rect x="456.7" y="141.5" width="0.9" height="1.2"/>
<rect x="457.3" y="142.9" width="0.9" height="2.1"/>
<rect x="458.3" y="141.4" width="0.9" height="1.5"/>
<rect x="460.3" y="147.6" width="0.9" height="2.4"/>
<rect x="460.0" y="138.6" width="0.9" height="1.9"/>
<rect x="461.2" y="139.0" width="0.9" height="2.1"/>
<rect x="465.2" y="139.9" width="0.9" height="1.5"/>
<rect x="465.2" y="136.4" width="0.9" height="1.3"/>
<rect x="466.8" y="140.3" width="0.9" height="1.2"/>
<rect x="467.7" y="136.8" width="0.9" height="0.9"/>
<rect x="468.9" y="156.0" width="0.9" height="1.9"/>
<rect x="470.2" y="152.7" width="0.9" height="1.7"/>
<rect x="469.7" y="149.0" width="0.9" height="2.3"/>
<rect x="470.9" y="142.4" width="0.9" height="2.0"/>
<rect x="470.7" y="146.9" width="0.9" height="1.2"/>
<rect x="470.6" y="149.6" width="0.9" height="1.8"/>
<rect x="472.0" y="151.3" width="0.9" height="1.6"/>
<rect x="473.1" y="145.1" width="0.9" height="1.9"/>
<rect x="475.1" y="144.9" width="0.9" height="1.1"/>
<rect x="475.5" y="149.1" width="0.9" height="2.2"/>
<rect x="475.8" y="144.9" width="0.9" height="1.4"/>
<rect x="476.1" y="145.9" width="0.9" height="0.9"/>
<rect x="478.6" y="143.9" width="0.9" height="2.0"/>
<rect x="480.3" y="142.6" width="0.9" height="2.3"/>
<rect x="480.1" y="147.8" width="0.9" height="2.2"/>
<rect x="500.0" y="155.0" width="0.9" height="1.4"/>
<rect x="499.9" y="155.5" width="0.9" height="1.0"/>
</g>
<g fill="#0000ff">
<ellipse cx="323.96" cy="161.60" rx="1.15" ry="0.9"/>
<ellipse cx="329.34" cy="137.55" rx="1.15" ry="0.9"/>
<ellipse cx="345.47" cy="115.61" rx="1.15" ry="0.9"/>
<ellipse cx="347.31" cy="113.77" rx="1.15" ry="0.9"/>
<ellipse cx="345.47" cy="117.03" rx="1.15" ry="0.9"/>
<ellipse cx="345.89" cy="122.69" rx="1.15" ry="0.9"/>
<ellipse cx="346.60" cy="129.06" rx="1.15" ry="0.9"/>
<ellipse cx="345.89" cy="130.47" rx="1.15" ry="0.9"/>
<ellipse cx="346.60" cy="133.30" rx="1.15" ry="0.9"/>
<ellipse cx="347.31" cy="134.72" rx="1.15" ry="0.9"/>
<ellipse cx="345.47" cy="139.67" rx="1.15" ry="0.9"/>
<ellipse cx="345.89" cy="144.62" rx="1.15" ry="0.9"/>
<ellipse cx="358.63" cy="134.72" rx="1.15" ry="0.9"/>
<ellipse cx="360.75" cy="139.67" rx="1.15" ry="0.9"/>
<ellipse cx="372.78" cy="112.08" rx="1.15" ry="0.9"/>
<ellipse cx="374.19" cy="112.08" rx="1.15" ry="0.9"/>
<ellipse cx="372.42" cy="112.78" rx="1.15" ry="0.9"/>
<ellipse cx="373.84" cy="112.08" rx="1.15" ry="0.9"/>
<ellipse cx="373.13" cy="115.61" rx="1.15" ry="0.9"/>
<ellipse cx="385.87" cy="117.74" rx="1.15" ry="0.9"/>
<ellipse cx="386.15" cy="123.40" rx="1.15" ry="0.9"/>
<ellipse cx="396.90" cy="112.78" rx="1.15" ry="0.9"/>
<ellipse cx="397.19" cy="115.19" rx="1.15" ry="0.9"/>
<ellipse cx="402.14" cy="112.08" rx="1.15" ry="0.9"/>
<ellipse cx="403.55" cy="112.78" rx="1.15" ry="0.9"/>
<ellipse cx="401.71" cy="118.44" rx="1.15" ry="0.9"/>
<ellipse cx="397.19" cy="123.40" rx="1.15" ry="0.9"/>
<ellipse cx="403.98" cy="130.47" rx="1.15" ry="0.9"/>
<ellipse cx="403.98" cy="135.42" rx="1.15" ry="0.9"/>
<ellipse cx="409.92" cy="139.67" rx="1.15" ry="0.9"/>
<ellipse cx="419.12" cy="132.59" rx="1.15" ry="0.9"/>
<ellipse cx="419.12" cy="137.55" rx="1.15" ry="0.9"/>
<ellipse cx="417.00" cy="143.21" rx="1.15" ry="0.9"/>
<ellipse cx="420.53" cy="144.62" rx="1.15" ry="0.9"/>
<ellipse cx="426.19" cy="148.16" rx="1.15" ry="0.9"/>
<ellipse cx="404.26" cy="143.21" rx="1.15" ry="0.9"/>
<ellipse cx="407.80" cy="147.45" rx="1.15" ry="0.9"/>
<ellipse cx="442.28" cy="125.52" rx="1.15" ry="0.9"/>
<ellipse cx="442.56" cy="127.64" rx="1.15" ry="0.9"/>
<ellipse cx="445.11" cy="131.18" rx="1.15" ry="0.9"/>
<ellipse cx="431.67" cy="141.08" rx="1.15" ry="0.9"/>
<ellipse cx="455.02" cy="135.42" rx="1.15" ry="0.9"/>
<ellipse cx="459.26" cy="134.72" rx="1.15" ry="0.9"/>
<ellipse cx="471.29" cy="126.93" rx="1.15" ry="0.9"/>
<ellipse cx="469.87" cy="129.76" rx="1.15" ry="0.9"/>
<ellipse cx="475.53" cy="131.89" rx="1.15" ry="0.9"/>
<ellipse cx="464.21" cy="121.27" rx="1.15" ry="0.9"/>
<ellipse cx="463.51" cy="126.23" rx="1.15" ry="0.9"/>
<ellipse cx="488.51" cy="127.65" rx="1.15" ry="0.9"/>
<ellipse cx="488.79" cy="137.55" rx="1.15" ry="0.9"/>
<ellipse cx="489.50" cy="146.05" rx="1.15" ry="0.9"/>
<ellipse cx="494.45" cy="143.22" rx="1.15" ry="0.9"/>
<ellipse cx="498.70" cy="142.51" rx="1.15" ry="0.9"/>
<ellipse cx="501.53" cy="139.68" rx="1.15" ry="0.9"/>
<ellipse cx="510.02" cy="147.46" rx="1.15" ry="0.9"/>
<ellipse cx="514.27" cy="113.49" rx="1.15" ry="0.9"/>
<ellipse cx="516.39" cy="117.03" rx="1.15" ry="0.9"/>
<ellipse cx="513.56" cy="127.65" rx="1.15" ry="0.9"/>
<ellipse cx="514.98" cy="129.77" rx="1.15" ry="0.9"/>
<ellipse cx="514.27" cy="134.72" rx="1.15" ry="0.9"/>
<ellipse cx="514.98" cy="139.68" rx="1.15" ry="0.9"/>
<ellipse cx="518.52" cy="146.05" rx="1.15" ry="0.9"/>
<ellipse cx="517.81" cy="150.29" rx="1.15" ry="0.9"/>
<ellipse cx="532.67" cy="158.08" rx="1.15" ry="0.9"/>
<ellipse cx="484.55" cy="151.71" rx="1.15" ry="0.9"/>
<ellipse cx="485.96" cy="147.46" rx="1.15" ry="0.9"/>
<ellipse cx="497.29" cy="147.46" rx="1.15" ry="0.9"/>
<ellipse cx="500.12" cy="150.29" rx="1.15" ry="0.9"/>
<ellipse cx="495.87" cy="151.71" rx="1.15" ry="0.9"/>
<ellipse cx="502.95" cy="146.05" rx="1.15" ry="0.9"/>
<ellipse cx="506.49" cy="147.46" rx="1.15" ry="0.9"/>
<ellipse cx="514.50" cy="117.00" rx="1.15" ry="0.9"/>
<ellipse cx="515.10" cy="124.50" rx="1.15" ry="0.9"/>
<ellipse cx="514.10" cy="126.00" rx="1.15" ry="0.9"/>
<ellipse cx="514.60" cy="134.50" rx="1.15" ry="0.9"/>
<ellipse cx="514.40" cy="138.50" rx="1.15" ry="0.9"/>
<ellipse cx="515.00" cy="143.50" rx="1.15" ry="0.9"/>
<ellipse cx="514.30" cy="148.00" rx="1.15" ry="0.9"/>
<ellipse cx="515.30" cy="150.50" rx="1.15" ry="0.9"/>
<ellipse cx="493.75" cy="147.46" rx="1.15" ry="0.9"/>
<ellipse cx="495.16" cy="146.05" rx="1.15" ry="0.9"/>
<ellipse cx="497.29" cy="144.63" rx="1.15" ry="0.9"/>
<ellipse cx="499.41" cy="147.46" rx="1.15" ry="0.9"/>
<ellipse cx="501.53" cy="148.88" rx="1.15" ry="0.9"/>
<ellipse cx="503.65" cy="151.71" rx="1.15" ry="0.9"/>
<ellipse cx="494.45" cy="150.29" rx="1.15" ry="0.9"/>
<ellipse cx="498.70" cy="151.00" rx="1.15" ry="0.9"/>
<ellipse cx="496.58" cy="153.12" rx="1.15" ry="0.9"/>
<ellipse cx="500.82" cy="152.42" rx="1.15" ry="0.9"/>
<ellipse cx="493.04" cy="152.42" rx="1.15" ry="0.9"/>
<ellipse cx="502.24" cy="143.92" rx="1.15" ry="0.9"/>
<ellipse cx="497.99" cy="141.09" rx="1.15" ry="0.9"/>
<ellipse cx="504.36" cy="154.54" rx="1.15" ry="0.9"/>
<ellipse cx="513.80" cy="150.00" rx="1.15" ry="0.9"/>
<ellipse cx="515.10" cy="153.00" rx="1.15" ry="0.9"/>
<ellipse cx="516.50" cy="148.50" rx="1.15" ry="0.9"/>
<ellipse cx="517.30" cy="151.50" rx="1.15" ry="0.9"/>
<ellipse cx="513.50" cy="156.00" rx="1.15" ry="0.9"/>
<ellipse cx="515.90" cy="156.50" rx="1.15" ry="0.9"/>
<ellipse cx="513.10" cy="147.00" rx="1.15" ry="0.9"/>
<ellipse cx="518.30" cy="146.50" rx="1.15" ry="0.9"/>
</g></g></defs>
<rect width="550" height="495" fill="#fff"/>
<use href="#blueL" transform="translate(0 -93.90)"/>
<polygon points="28.54,77.10 28.94,76.52 29.54,76.18 30.38,76.00 31.63,76.00 32.52,76.21 33.12,76.55 33.52,77.10" fill="#ff0000"/>
<polygon points="33.12,77.10 33.62,76.55 34.36,76.49 35.11,77.10" fill="#ff0000"/>
<polygon points="34.86,77.10 35.36,76.79 38.59,76.73 39.08,77.10" fill="#ff0000"/>
<polygon points="41.67,77.10 41.97,76.40 42.57,76.00 43.16,75.81 43.86,76.06 44.26,76.55 44.55,77.10" fill="#ff0000"/>
<polygon points="63.35,77.10 63.70,76.70 65.44,76.61 66.43,76.24 67.03,76.40 67.43,77.10" fill="#ff0000"/>
<polygon points="103.48,77.10 103.97,76.40 104.47,76.09 105.22,76.00 105.71,76.40 106.11,77.10" fill="#ff0000"/>
<polygon points="44.31,77.10 44.80,76.61 46.54,76.55 47.04,77.10" fill="#ff0000"/>
<line x1="35.70" y1="74.25" x2="35.70" y2="77.10" stroke="#ff0000" stroke-width="1.7600000000000002"/>
<line x1="36.30" y1="73.64" x2="36.30" y2="77.10" stroke="#ff0000" stroke-width="1.7600000000000002"/>
<line x1="37.05" y1="72.81" x2="37.05" y2="77.10" stroke="#ff0000" stroke-width="1.7600000000000002"/>
<line x1="37.69" y1="73.64" x2="37.69" y2="77.10" stroke="#ff0000" stroke-width="1.7600000000000002"/>
<line x1="47.69" y1="72.11" x2="47.69" y2="77.10" stroke="#ff0000" stroke-width="1.6500000000000001"/>
<line x1="50.47" y1="70.58" x2="50.47" y2="77.10" stroke="#ff0000" stroke-width="1.6500000000000001"/>
<line x1="105.22" y1="74.86" x2="105.22" y2="77.10" stroke="#ff0000" stroke-width="1.6500000000000001"/>
<circle cx="43.06" cy="74.96" r="0.85" fill="#ff0000"/>
<circle cx="42.37" cy="75.39" r="0.85" fill="#ff0000"/>
<circle cx="43.91" cy="75.26" r="0.85" fill="#ff0000"/>
<circle cx="42.66" cy="75.02" r="0.85" fill="#ff0000"/>
<circle cx="41.82" cy="75.78" r="0.85" fill="#ff0000"/>
<circle cx="44.31" cy="75.69" r="0.85" fill="#ff0000"/>
<circle cx="66.53" cy="75.75" r="0.85" fill="#ff0000"/>
<circle cx="64.19" cy="76.18" r="0.85" fill="#ff0000"/>
<circle cx="38.29" cy="73.12" r="0.85" fill="#ff0000"/>
<circle cx="38.29" cy="74.10" r="0.85" fill="#ff0000"/>
<circle cx="38.29" cy="75.23" r="0.85" fill="#ff0000"/>
<circle cx="38.29" cy="75.97" r="0.85" fill="#ff0000"/>
<circle cx="35.75" cy="74.71" r="0.85" fill="#ff0000"/>
<circle cx="35.90" cy="75.94" r="0.85" fill="#ff0000"/>
<circle cx="37.39" cy="74.41" r="0.85" fill="#ff0000"/>
<circle cx="45.35" cy="74.37" r="0.85" fill="#ff0000"/>
<circle cx="46.15" cy="73.36" r="0.85" fill="#ff0000"/>
<circle cx="46.15" cy="76.33" r="0.85" fill="#ff0000"/>
<circle cx="48.68" cy="75.11" r="0.85" fill="#ff0000"/>
<circle cx="48.48" cy="74.10" r="0.85" fill="#ff0000"/>
<circle cx="47.29" cy="75.94" r="0.85" fill="#ff0000"/>
<circle cx="52.91" cy="75.11" r="0.85" fill="#ff0000"/>
<circle cx="52.51" cy="75.97" r="0.85" fill="#ff0000"/>
<circle cx="51.07" cy="76.46" r="0.85" fill="#ff0000"/>
<circle cx="53.50" cy="76.86" r="0.85" fill="#ff0000"/>
<circle cx="56.49" cy="76.46" r="0.85" fill="#ff0000"/>
<circle cx="60.32" cy="76.58" r="0.85" fill="#ff0000"/>
<circle cx="61.71" cy="72.02" r="0.85" fill="#ff0000"/>
<circle cx="61.71" cy="73.85" r="0.85" fill="#ff0000"/>
<circle cx="61.71" cy="76.46" r="0.85" fill="#ff0000"/>
<circle cx="63.75" cy="76.21" r="0.85" fill="#ff0000"/>
<circle cx="64.54" cy="76.58" r="0.85" fill="#ff0000"/>
<circle cx="72.25" cy="76.82" r="0.85" fill="#ff0000"/>
<circle cx="75.68" cy="70.00" r="0.85" fill="#ff0000"/>
<circle cx="75.68" cy="70.67" r="0.85" fill="#ff0000"/>
<circle cx="75.68" cy="72.29" r="0.85" fill="#ff0000"/>
<circle cx="75.68" cy="72.97" r="0.85" fill="#ff0000"/>
<circle cx="75.68" cy="73.64" r="0.85" fill="#ff0000"/>
<circle cx="75.68" cy="74.44" r="0.85" fill="#ff0000"/>
<circle cx="75.68" cy="75.11" r="0.85" fill="#ff0000"/>
<circle cx="75.68" cy="75.94" r="0.85" fill="#ff0000"/>
<circle cx="75.68" cy="76.27" r="0.85" fill="#ff0000"/>
<circle cx="80.35" cy="71.16" r="0.85" fill="#ff0000"/>
<circle cx="78.61" cy="72.23" r="0.85" fill="#ff0000"/>
<circle cx="79.56" cy="75.08" r="0.85" fill="#ff0000"/>
<circle cx="81.00" cy="75.57" r="0.85" fill="#ff0000"/>
<circle cx="82.09" cy="75.32" r="0.85" fill="#ff0000"/>
<circle cx="83.14" cy="74.44" r="0.85" fill="#ff0000"/>
<circle cx="81.00" cy="76.82" r="0.85" fill="#ff0000"/>
<circle cx="84.08" cy="76.06" r="0.85" fill="#ff0000"/>
<circle cx="85.03" cy="76.24" r="0.85" fill="#ff0000"/>
<circle cx="86.87" cy="75.08" r="0.85" fill="#ff0000"/>
<circle cx="87.66" cy="74.86" r="0.85" fill="#ff0000"/>
<circle cx="88.91" cy="73.73" r="0.85" fill="#ff0000"/>
<circle cx="90.15" cy="75.57" r="0.85" fill="#ff0000"/>
<circle cx="92.39" cy="75.57" r="0.85" fill="#ff0000"/>
<circle cx="99.35" cy="63.75" r="0.85" fill="#ff0000"/>
<circle cx="99.35" cy="64.45" r="0.85" fill="#ff0000"/>
<circle cx="99.35" cy="66.11" r="0.85" fill="#ff0000"/>
<circle cx="100.29" cy="66.81" r="0.85" fill="#ff0000"/>
<circle cx="99.35" cy="67.97" r="0.85" fill="#ff0000"/>
<circle cx="99.35" cy="72.05" r="0.85" fill="#ff0000"/>
<circle cx="99.35" cy="73.03" r="0.85" fill="#ff0000"/>
<circle cx="99.35" cy="73.43" r="0.85" fill="#ff0000"/>
<circle cx="99.35" cy="76.33" r="0.85" fill="#ff0000"/>
<circle cx="107.85" cy="76.73" r="0.85" fill="#ff0000"/>
<circle cx="104.97" cy="75.17" r="0.85" fill="#ff0000"/>
<circle cx="105.37" cy="75.48" r="0.85" fill="#ff0000"/>
<circle cx="104.47" cy="75.63" r="0.85" fill="#ff0000"/>
<circle cx="105.22" cy="74.86" r="0.85" fill="#ff0000"/>
<circle cx="120.28" cy="67.06" r="0.85" fill="#ff0000"/>
<circle cx="120.28" cy="72.26" r="0.85" fill="#ff0000"/>
<circle cx="120.28" cy="73.21" r="0.85" fill="#ff0000"/>
<circle cx="120.28" cy="74.10" r="0.85" fill="#ff0000"/>
<circle cx="120.28" cy="75.35" r="0.85" fill="#ff0000"/>
<circle cx="120.28" cy="75.75" r="0.85" fill="#ff0000"/>
<circle cx="120.28" cy="76.33" r="0.85" fill="#ff0000"/>
<circle cx="120.28" cy="76.70" r="0.85" fill="#ff0000"/>
<circle cx="123.76" cy="65.43" r="0.85" fill="#ff0000"/>
<circle cx="123.76" cy="67.06" r="0.85" fill="#ff0000"/>
<circle cx="123.76" cy="70.67" r="0.85" fill="#ff0000"/>
<circle cx="123.76" cy="72.05" r="0.85" fill="#ff0000"/>
<circle cx="123.76" cy="74.37" r="0.85" fill="#ff0000"/>
<circle cx="124.51" cy="76.46" r="0.85" fill="#ff0000"/>
<circle cx="126.85" cy="66.78" r="0.85" fill="#ff0000"/>
<circle cx="126.85" cy="73.39" r="0.85" fill="#ff0000"/>
<circle cx="126.85" cy="73.98" r="0.85" fill="#ff0000"/>
<circle cx="126.85" cy="74.59" r="0.85" fill="#ff0000"/>
<circle cx="126.85" cy="74.96" r="0.85" fill="#ff0000"/>
<circle cx="120.32" cy="17.60" r="0.9" fill="#ff0000"/>
<rect x="29.01" y="75.50" width="11.29" height="1.4" fill="#ff0000"/>
<rect x="40.84" y="75.70" width="4.84" height="1.2" fill="#ff0000"/>
<rect x="46.22" y="75.60" width="8.07" height="1.3" fill="#ff0000"/>
<rect x="55.36" y="75.90" width="4.30" height="1.0" fill="#ff0000"/>
<rect x="60.74" y="75.80" width="7.53" height="1.1" fill="#ff0000"/>
<rect x="69.34" y="75.90" width="6.45" height="1.0" fill="#ff0000"/>
<rect x="77.95" y="76.00" width="5.38" height="0.9" fill="#ff0000"/>
<rect x="84.40" y="76.00" width="7.53" height="0.9" fill="#ff0000"/>
<rect x="96.23" y="76.00" width="9.68" height="0.9" fill="#ff0000"/>
<rect x="118.82" y="76.00" width="8.60" height="0.9" fill="#ff0000"/>
<line x1="27.4" y1="59.25" x2="248.0" y2="59.25" stroke="#2ca02c" stroke-width="1.4" stroke-dasharray="3.6 1.6"/>
<line x1="134.95" y1="14.62" x2="134.95" y2="77.10" stroke="#2ca02c" stroke-width="1.4" stroke-dasharray="3.6 1.6"/>
<line x1="27.4" y1="14.62" x2="27.4" y2="77.60" stroke="#777777" stroke-width="1.1"/>
<line x1="26.9" y1="77.1" x2="248.0" y2="77.1" stroke="#777777" stroke-width="1.1"/>
<line x1="27.40" y1="77.1" x2="27.40" y2="79.40" stroke="#777777" stroke-width="1.1"/>
<text transform="translate(27.40 86.40) scale(0.92 1.33)" text-anchor="middle" class="tk">0.0</text>
<line x1="48.91" y1="77.1" x2="48.91" y2="79.40" stroke="#777777" stroke-width="1.1"/>
<text transform="translate(48.91 86.40) scale(0.92 1.33)" text-anchor="middle" class="tk">20.0</text>
<line x1="70.42" y1="77.1" x2="70.42" y2="79.40" stroke="#777777" stroke-width="1.1"/>
<text transform="translate(70.42 86.40) scale(0.92 1.33)" text-anchor="middle" class="tk">40.0</text>
<line x1="91.93" y1="77.1" x2="91.93" y2="79.40" stroke="#777777" stroke-width="1.1"/>
<text transform="translate(91.93 86.40) scale(0.92 1.33)" text-anchor="middle" class="tk">60.0</text>
<line x1="113.44" y1="77.1" x2="113.44" y2="79.40" stroke="#777777" stroke-width="1.1"/>
<text transform="translate(113.44 86.40) scale(0.92 1.33)" text-anchor="middle" class="tk">80.0</text>
<line x1="134.95" y1="77.1" x2="134.95" y2="79.40" stroke="#777777" stroke-width="1.1"/>
<text transform="translate(134.95 86.40) scale(0.92 1.33)" text-anchor="middle" class="tk">100.0</text>
<line x1="156.46" y1="77.1" x2="156.46" y2="79.40" stroke="#777777" stroke-width="1.1"/>
<text transform="translate(156.46 86.40) scale(0.92 1.33)" text-anchor="middle" class="tk">120.0</text>
<line x1="177.97" y1="77.1" x2="177.97" y2="79.40" stroke="#777777" stroke-width="1.1"/>
<text transform="translate(177.97 86.40) scale(0.92 1.33)" text-anchor="middle" class="tk">140.0</text>
<line x1="199.48" y1="77.1" x2="199.48" y2="79.40" stroke="#777777" stroke-width="1.1"/>
<text transform="translate(199.48 86.40) scale(0.92 1.33)" text-anchor="middle" class="tk">160.0</text>
<line x1="220.99" y1="77.1" x2="220.99" y2="79.40" stroke="#777777" stroke-width="1.1"/>
<text transform="translate(220.99 86.40) scale(0.92 1.33)" text-anchor="middle" class="tk">180.0</text>
<line x1="242.50" y1="77.1" x2="242.50" y2="79.40" stroke="#777777" stroke-width="1.1"/>
<text transform="translate(242.50 86.40) scale(0.92 1.33)" text-anchor="middle" class="tk">200.0</text>
<line x1="25.10" y1="77.10" x2="27.4" y2="77.10" stroke="#777777" stroke-width="1.1"/>
<text transform="translate(22.10 80.30) scale(0.92 1.33)" text-anchor="end" class="tk">0</text>
<line x1="25.10" y1="65.20" x2="27.4" y2="65.20" stroke="#777777" stroke-width="1.1"/>
<text transform="translate(22.10 68.40) scale(0.92 1.33)" text-anchor="end" class="tk">0.2</text>
<line x1="25.10" y1="53.30" x2="27.4" y2="53.30" stroke="#777777" stroke-width="1.1"/>
<text transform="translate(22.10 56.50) scale(0.92 1.33)" text-anchor="end" class="tk">0.4</text>
<line x1="25.10" y1="41.40" x2="27.4" y2="41.40" stroke="#777777" stroke-width="1.1"/>
<text transform="translate(22.10 44.60) scale(0.92 1.33)" text-anchor="end" class="tk">0.6</text>
<line x1="25.10" y1="29.50" x2="27.4" y2="29.50" stroke="#777777" stroke-width="1.1"/>
<text transform="translate(22.10 32.70) scale(0.92 1.33)" text-anchor="end" class="tk">0.8</text>
<line x1="25.10" y1="17.60" x2="27.4" y2="17.60" stroke="#777777" stroke-width="1.1"/>
<text transform="translate(22.10 20.80) scale(0.92 1.33)" text-anchor="end" class="tk">1.0</text>
<text x="137.70" y="10.80" text-anchor="middle" class="ti" textLength="38.099999999999994" lengthAdjust="spacingAndGlyphs">Raw Data</text>
<text x="137.70" y="94.70" text-anchor="middle" class="xl" textLength="40.3" lengthAdjust="spacingAndGlyphs">Distance(m)</text>
<text x="10.10" y="45.86" text-anchor="middle" class="xl" transform="rotate(-90 10.10 45.86)" textLength="48.8" lengthAdjust="spacingAndGlyphs">Intensity value</text>
<use href="#blueR" transform="translate(0 -93.90)"/>
<polygon points="321.80,77.10 322.60,75.20 323.80,74.10 325.50,73.50 328.00,73.50 329.80,74.20 331.00,75.30 331.80,77.10" fill="#ff0000"/>
<polygon points="331.00,77.10 332.00,75.30 333.50,75.10 335.00,77.10" fill="#ff0000"/>
<polygon points="334.50,77.10 335.50,76.10 342.00,75.90 343.00,77.10" fill="#ff0000"/>
<polygon points="348.20,77.10 348.80,74.80 350.00,73.50 351.20,72.90 352.60,73.70 353.40,75.30 354.00,77.10" fill="#ff0000"/>
<polygon points="391.80,77.10 392.50,75.80 396.00,75.50 398.00,74.30 399.20,74.80 400.00,77.10" fill="#ff0000"/>
<polygon points="472.50,77.10 473.50,74.80 474.50,73.80 476.00,73.50 477.00,74.80 477.80,77.10" fill="#ff0000"/>
<polygon points="353.50,77.10 354.50,75.50 358.00,75.30 359.00,77.10" fill="#ff0000"/>
<line x1="336.20" y1="68.80" x2="336.20" y2="77.10" stroke="#ff0000" stroke-width="1.1"/>
<circle cx="336.52" cy="68.40" r="0.85" fill="#ff0000"/>
<circle cx="336.22" cy="70.33" r="0.85" fill="#ff0000"/>
<circle cx="336.23" cy="72.10" r="0.85" fill="#ff0000"/>
<circle cx="335.94" cy="73.57" r="0.85" fill="#ff0000"/>
<circle cx="336.19" cy="74.92" r="0.85" fill="#ff0000"/>
<circle cx="336.29" cy="76.34" r="0.85" fill="#ff0000"/>
<line x1="337.40" y1="66.80" x2="337.40" y2="77.10" stroke="#ff0000" stroke-width="1.1"/>
<circle cx="337.22" cy="66.40" r="0.85" fill="#ff0000"/>
<circle cx="337.37" cy="68.28" r="0.85" fill="#ff0000"/>
<circle cx="337.72" cy="69.96" r="0.85" fill="#ff0000"/>
<circle cx="337.28" cy="71.75" r="0.85" fill="#ff0000"/>
<circle cx="337.09" cy="73.70" r="0.85" fill="#ff0000"/>
<circle cx="337.47" cy="75.46" r="0.85" fill="#ff0000"/>
<circle cx="337.39" cy="76.96" r="0.85" fill="#ff0000"/>
<line x1="338.90" y1="64.10" x2="338.90" y2="77.10" stroke="#ff0000" stroke-width="1.1"/>
<circle cx="339.01" cy="63.70" r="0.85" fill="#ff0000"/>
<circle cx="338.90" cy="65.44" r="0.85" fill="#ff0000"/>
<circle cx="339.22" cy="66.76" r="0.85" fill="#ff0000"/>
<circle cx="338.95" cy="68.63" r="0.85" fill="#ff0000"/>
<circle cx="338.64" cy="70.32" r="0.85" fill="#ff0000"/>
<circle cx="339.24" cy="71.93" r="0.85" fill="#ff0000"/>
<circle cx="338.97" cy="73.58" r="0.85" fill="#ff0000"/>
<circle cx="339.13" cy="75.51" r="0.85" fill="#ff0000"/>
<line x1="340.20" y1="66.80" x2="340.20" y2="77.10" stroke="#ff0000" stroke-width="1.1"/>
<circle cx="340.39" cy="66.40" r="0.85" fill="#ff0000"/>
<circle cx="340.06" cy="68.36" r="0.85" fill="#ff0000"/>
<circle cx="339.88" cy="69.75" r="0.85" fill="#ff0000"/>
<circle cx="340.42" cy="70.99" r="0.85" fill="#ff0000"/>
<circle cx="340.24" cy="72.26" r="0.85" fill="#ff0000"/>
<circle cx="340.46" cy="74.22" r="0.85" fill="#ff0000"/>
<circle cx="340.15" cy="75.86" r="0.85" fill="#ff0000"/>
<line x1="360.30" y1="61.80" x2="360.30" y2="77.10" stroke="#ff0000" stroke-width="1.1"/>
<circle cx="360.07" cy="61.40" r="0.85" fill="#ff0000"/>
<circle cx="360.40" cy="62.75" r="0.85" fill="#ff0000"/>
<circle cx="360.44" cy="64.60" r="0.85" fill="#ff0000"/>
<circle cx="360.28" cy="66.03" r="0.85" fill="#ff0000"/>
<circle cx="360.38" cy="67.77" r="0.85" fill="#ff0000"/>
<circle cx="360.40" cy="69.23" r="0.85" fill="#ff0000"/>
<circle cx="359.97" cy="71.23" r="0.85" fill="#ff0000"/>
<circle cx="360.55" cy="72.61" r="0.85" fill="#ff0000"/>
<circle cx="360.26" cy="74.42" r="0.85" fill="#ff0000"/>
<circle cx="360.50" cy="75.74" r="0.85" fill="#ff0000"/>
<line x1="365.90" y1="56.80" x2="365.90" y2="77.10" stroke="#ff0000" stroke-width="1.1"/>
<circle cx="366.05" cy="56.40" r="0.85" fill="#ff0000"/>
<circle cx="365.64" cy="57.95" r="0.85" fill="#ff0000"/>
<circle cx="365.80" cy="59.43" r="0.85" fill="#ff0000"/>
<circle cx="365.75" cy="60.70" r="0.85" fill="#ff0000"/>
<circle cx="365.86" cy="62.39" r="0.85" fill="#ff0000"/>
<circle cx="365.92" cy="64.40" r="0.85" fill="#ff0000"/>
<circle cx="365.62" cy="66.29" r="0.85" fill="#ff0000"/>
<circle cx="365.96" cy="67.98" r="0.85" fill="#ff0000"/>
<circle cx="365.81" cy="69.72" r="0.85" fill="#ff0000"/>
<circle cx="366.18" cy="71.19" r="0.85" fill="#ff0000"/>
<circle cx="365.79" cy="72.60" r="0.85" fill="#ff0000"/>
<circle cx="366.24" cy="74.60" r="0.85" fill="#ff0000"/>
<circle cx="366.03" cy="76.20" r="0.85" fill="#ff0000"/>
<line x1="476.00" y1="70.80" x2="476.00" y2="77.10" stroke="#ff0000" stroke-width="1.1"/>
<circle cx="476.14" cy="70.40" r="0.85" fill="#ff0000"/>
<circle cx="476.00" cy="71.62" r="0.85" fill="#ff0000"/>
<circle cx="476.16" cy="73.39" r="0.85" fill="#ff0000"/>
<circle cx="476.30" cy="75.37" r="0.85" fill="#ff0000"/>
<circle cx="351.00" cy="70.10" r="0.85" fill="#ff0000"/>
<circle cx="349.60" cy="71.50" r="0.85" fill="#ff0000"/>
<circle cx="352.70" cy="71.10" r="0.85" fill="#ff0000"/>
<circle cx="350.20" cy="70.30" r="0.85" fill="#ff0000"/>
<circle cx="348.50" cy="72.80" r="0.85" fill="#ff0000"/>
<circle cx="353.50" cy="72.50" r="0.85" fill="#ff0000"/>
<circle cx="398.20" cy="72.70" r="0.85" fill="#ff0000"/>
<circle cx="393.50" cy="74.10" r="0.85" fill="#ff0000"/>
<circle cx="341.40" cy="64.10" r="0.85" fill="#ff0000"/>
<circle cx="341.40" cy="67.30" r="0.85" fill="#ff0000"/>
<circle cx="341.40" cy="71.00" r="0.85" fill="#ff0000"/>
<circle cx="341.40" cy="73.40" r="0.85" fill="#ff0000"/>
<circle cx="336.30" cy="69.30" r="0.85" fill="#ff0000"/>
<circle cx="336.60" cy="73.30" r="0.85" fill="#ff0000"/>
<circle cx="339.60" cy="68.30" r="0.85" fill="#ff0000"/>
<circle cx="355.60" cy="68.20" r="0.85" fill="#ff0000"/>
<circle cx="357.20" cy="64.90" r="0.85" fill="#ff0000"/>
<circle cx="357.20" cy="74.60" r="0.85" fill="#ff0000"/>
<circle cx="362.30" cy="70.60" r="0.85" fill="#ff0000"/>
<circle cx="361.90" cy="67.30" r="0.85" fill="#ff0000"/>
<circle cx="359.50" cy="73.30" r="0.85" fill="#ff0000"/>
<circle cx="370.80" cy="70.60" r="0.85" fill="#ff0000"/>
<circle cx="370.00" cy="73.40" r="0.85" fill="#ff0000"/>
<circle cx="367.10" cy="75.00" r="0.85" fill="#ff0000"/>
<circle cx="372.00" cy="76.30" r="0.85" fill="#ff0000"/>
<circle cx="378.00" cy="75.00" r="0.85" fill="#ff0000"/>
<circle cx="385.70" cy="75.40" r="0.85" fill="#ff0000"/>
<circle cx="388.50" cy="60.50" r="0.85" fill="#ff0000"/>
<circle cx="388.50" cy="66.50" r="0.85" fill="#ff0000"/>
<circle cx="388.50" cy="75.00" r="0.85" fill="#ff0000"/>
<circle cx="392.60" cy="74.20" r="0.85" fill="#ff0000"/>
<circle cx="394.20" cy="75.40" r="0.85" fill="#ff0000"/>
<circle cx="409.70" cy="76.20" r="0.85" fill="#ff0000"/>
<circle cx="416.60" cy="53.90" r="0.85" fill="#ff0000"/>
<circle cx="416.60" cy="56.10" r="0.85" fill="#ff0000"/>
<circle cx="416.60" cy="61.40" r="0.85" fill="#ff0000"/>
<circle cx="416.60" cy="63.60" r="0.85" fill="#ff0000"/>
<circle cx="416.60" cy="65.80" r="0.85" fill="#ff0000"/>
<circle cx="416.60" cy="68.40" r="0.85" fill="#ff0000"/>
<circle cx="416.60" cy="70.60" r="0.85" fill="#ff0000"/>
<circle cx="416.60" cy="73.30" r="0.85" fill="#ff0000"/>
<circle cx="416.60" cy="74.40" r="0.85" fill="#ff0000"/>
<circle cx="426.00" cy="57.70" r="0.85" fill="#ff0000"/>
<circle cx="422.50" cy="61.20" r="0.85" fill="#ff0000"/>
<circle cx="424.40" cy="70.50" r="0.85" fill="#ff0000"/>
<circle cx="427.30" cy="72.10" r="0.85" fill="#ff0000"/>
<circle cx="429.50" cy="71.30" r="0.85" fill="#ff0000"/>
<circle cx="431.60" cy="68.40" r="0.85" fill="#ff0000"/>
<circle cx="427.30" cy="76.20" r="0.85" fill="#ff0000"/>
<circle cx="433.50" cy="73.70" r="0.85" fill="#ff0000"/>
<circle cx="435.40" cy="74.30" r="0.85" fill="#ff0000"/>
<circle cx="439.10" cy="70.50" r="0.85" fill="#ff0000"/>
<circle cx="440.70" cy="69.80" r="0.85" fill="#ff0000"/>
<circle cx="443.20" cy="66.10" r="0.85" fill="#ff0000"/>
<circle cx="445.70" cy="72.10" r="0.85" fill="#ff0000"/>
<circle cx="450.20" cy="72.10" r="0.85" fill="#ff0000"/>
<circle cx="464.20" cy="33.50" r="0.85" fill="#ff0000"/>
<circle cx="464.20" cy="35.80" r="0.85" fill="#ff0000"/>
<circle cx="464.20" cy="41.20" r="0.85" fill="#ff0000"/>
<circle cx="466.10" cy="43.50" r="0.85" fill="#ff0000"/>
<circle cx="464.20" cy="47.30" r="0.85" fill="#ff0000"/>
<circle cx="464.20" cy="60.60" r="0.85" fill="#ff0000"/>
<circle cx="464.20" cy="63.80" r="0.85" fill="#ff0000"/>
<circle cx="464.20" cy="65.10" r="0.85" fill="#ff0000"/>
<circle cx="464.20" cy="74.60" r="0.85" fill="#ff0000"/>
<circle cx="481.30" cy="75.90" r="0.85" fill="#ff0000"/>
<circle cx="475.50" cy="70.80" r="0.85" fill="#ff0000"/>
<circle cx="476.30" cy="71.80" r="0.85" fill="#ff0000"/>
<circle cx="474.50" cy="72.30" r="0.85" fill="#ff0000"/>
<circle cx="476.00" cy="69.80" r="0.85" fill="#ff0000"/>
<circle cx="506.30" cy="44.30" r="0.85" fill="#ff0000"/>
<circle cx="506.30" cy="61.30" r="0.85" fill="#ff0000"/>
<circle cx="506.30" cy="64.40" r="0.85" fill="#ff0000"/>
<circle cx="506.30" cy="67.30" r="0.85" fill="#ff0000"/>
<circle cx="506.30" cy="71.40" r="0.85" fill="#ff0000"/>
<circle cx="506.30" cy="72.70" r="0.85" fill="#ff0000"/>
<circle cx="506.30" cy="74.60" r="0.85" fill="#ff0000"/>
<circle cx="506.30" cy="75.80" r="0.85" fill="#ff0000"/>
<circle cx="513.30" cy="39.00" r="0.85" fill="#ff0000"/>
<circle cx="513.30" cy="44.30" r="0.85" fill="#ff0000"/>
<circle cx="513.30" cy="56.10" r="0.85" fill="#ff0000"/>
<circle cx="513.30" cy="60.60" r="0.85" fill="#ff0000"/>
<circle cx="513.30" cy="68.20" r="0.85" fill="#ff0000"/>
<circle cx="514.80" cy="75.00" r="0.85" fill="#ff0000"/>
<circle cx="519.50" cy="43.40" r="0.85" fill="#ff0000"/>
<circle cx="519.50" cy="65.00" r="0.85" fill="#ff0000"/>
<circle cx="519.50" cy="66.90" r="0.85" fill="#ff0000"/>
<circle cx="519.50" cy="68.90" r="0.85" fill="#ff0000"/>
<circle cx="519.50" cy="70.10" r="0.85" fill="#ff0000"/>
<line x1="319.5" y1="14.54" x2="319.5" y2="77.60" stroke="#777777" stroke-width="1.1"/>
<line x1="319.0" y1="77.1" x2="540.4" y2="77.1" stroke="#777777" stroke-width="1.1"/>
<line x1="319.50" y1="77.1" x2="319.50" y2="79.40" stroke="#777777" stroke-width="1.1"/>
<text transform="translate(319.50 86.40) scale(0.92 1.33)" text-anchor="middle" class="tk">0.0</text>
<line x1="341.14" y1="77.1" x2="341.14" y2="79.40" stroke="#777777" stroke-width="1.1"/>
<text transform="translate(341.14 86.40) scale(0.92 1.33)" text-anchor="middle" class="tk">10.0</text>
<line x1="362.78" y1="77.1" x2="362.78" y2="79.40" stroke="#777777" stroke-width="1.1"/>
<text transform="translate(362.78 86.40) scale(0.92 1.33)" text-anchor="middle" class="tk">20.0</text>
<line x1="384.42" y1="77.1" x2="384.42" y2="79.40" stroke="#777777" stroke-width="1.1"/>
<text transform="translate(384.42 86.40) scale(0.92 1.33)" text-anchor="middle" class="tk">30.0</text>
<line x1="406.06" y1="77.1" x2="406.06" y2="79.40" stroke="#777777" stroke-width="1.1"/>
<text transform="translate(406.06 86.40) scale(0.92 1.33)" text-anchor="middle" class="tk">40.0</text>
<line x1="427.70" y1="77.1" x2="427.70" y2="79.40" stroke="#777777" stroke-width="1.1"/>
<text transform="translate(427.70 86.40) scale(0.92 1.33)" text-anchor="middle" class="tk">50.0</text>
<line x1="449.34" y1="77.1" x2="449.34" y2="79.40" stroke="#777777" stroke-width="1.1"/>
<text transform="translate(449.34 86.40) scale(0.92 1.33)" text-anchor="middle" class="tk">60.0</text>
<line x1="470.98" y1="77.1" x2="470.98" y2="79.40" stroke="#777777" stroke-width="1.1"/>
<text transform="translate(470.98 86.40) scale(0.92 1.33)" text-anchor="middle" class="tk">70.0</text>
<line x1="492.62" y1="77.1" x2="492.62" y2="79.40" stroke="#777777" stroke-width="1.1"/>
<text transform="translate(492.62 86.40) scale(0.92 1.33)" text-anchor="middle" class="tk">80.0</text>
<line x1="514.26" y1="77.1" x2="514.26" y2="79.40" stroke="#777777" stroke-width="1.1"/>
<text transform="translate(514.26 86.40) scale(0.92 1.33)" text-anchor="middle" class="tk">90.0</text>
<line x1="535.90" y1="77.1" x2="535.90" y2="79.40" stroke="#777777" stroke-width="1.1"/>
<text transform="translate(535.90 86.40) scale(0.92 1.33)" text-anchor="middle" class="tk">100.0</text>
<line x1="317.20" y1="77.10" x2="319.5" y2="77.10" stroke="#777777" stroke-width="1.1"/>
<text transform="translate(314.20 80.30) scale(0.92 1.33)" text-anchor="end" class="tk">0</text>
<line x1="317.20" y1="57.67" x2="319.5" y2="57.67" stroke="#777777" stroke-width="1.1"/>
<text transform="translate(314.20 60.87) scale(0.92 1.33)" text-anchor="end" class="tk">0.1</text>
<line x1="317.20" y1="38.24" x2="319.5" y2="38.24" stroke="#777777" stroke-width="1.1"/>
<text transform="translate(314.20 41.44) scale(0.92 1.33)" text-anchor="end" class="tk">0.2</text>
<line x1="317.20" y1="18.81" x2="319.5" y2="18.81" stroke="#777777" stroke-width="1.1"/>
<text transform="translate(314.20 22.01) scale(0.92 1.33)" text-anchor="end" class="tk">0.3</text>
<text x="429.95" y="10.80" text-anchor="middle" class="ti" textLength="38.099999999999994" lengthAdjust="spacingAndGlyphs">Raw Data</text>
<text x="429.95" y="94.70" text-anchor="middle" class="xl" textLength="40.3" lengthAdjust="spacingAndGlyphs">Distance(m)</text>
<text x="302.20" y="45.82" text-anchor="middle" class="xl" transform="rotate(-90 302.20 45.82)" textLength="48.8" lengthAdjust="spacingAndGlyphs">Intensity value</text>
<use href="#blueL" transform="translate(0 0.00)"/>
<line x1="27.4" y1="153.15" x2="248.0" y2="153.15" stroke="#2ca02c" stroke-width="1.4" stroke-dasharray="3.6 1.6"/>
<line x1="134.95" y1="108.53" x2="134.95" y2="171.00" stroke="#2ca02c" stroke-width="1.4" stroke-dasharray="3.6 1.6"/>
<line x1="27.4" y1="108.53" x2="27.4" y2="171.50" stroke="#777777" stroke-width="1.1"/>
<line x1="26.9" y1="171.0" x2="248.0" y2="171.0" stroke="#777777" stroke-width="1.1"/>
<line x1="27.40" y1="171.0" x2="27.40" y2="173.30" stroke="#777777" stroke-width="1.1"/>
<text transform="translate(27.40 180.30) scale(0.92 1.33)" text-anchor="middle" class="tk">0.0</text>
<line x1="48.91" y1="171.0" x2="48.91" y2="173.30" stroke="#777777" stroke-width="1.1"/>
<text transform="translate(48.91 180.30) scale(0.92 1.33)" text-anchor="middle" class="tk">20.0</text>
<line x1="70.42" y1="171.0" x2="70.42" y2="173.30" stroke="#777777" stroke-width="1.1"/>
<text transform="translate(70.42 180.30) scale(0.92 1.33)" text-anchor="middle" class="tk">40.0</text>
<line x1="91.93" y1="171.0" x2="91.93" y2="173.30" stroke="#777777" stroke-width="1.1"/>
<text transform="translate(91.93 180.30) scale(0.92 1.33)" text-anchor="middle" class="tk">60.0</text>
<line x1="113.44" y1="171.0" x2="113.44" y2="173.30" stroke="#777777" stroke-width="1.1"/>
<text transform="translate(113.44 180.30) scale(0.92 1.33)" text-anchor="middle" class="tk">80.0</text>
<line x1="134.95" y1="171.0" x2="134.95" y2="173.30" stroke="#777777" stroke-width="1.1"/>
<text transform="translate(134.95 180.30) scale(0.92 1.33)" text-anchor="middle" class="tk">100.0</text>
<line x1="156.46" y1="171.0" x2="156.46" y2="173.30" stroke="#777777" stroke-width="1.1"/>
<text transform="translate(156.46 180.30) scale(0.92 1.33)" text-anchor="middle" class="tk">120.0</text>
<line x1="177.97" y1="171.0" x2="177.97" y2="173.30" stroke="#777777" stroke-width="1.1"/>
<text transform="translate(177.97 180.30) scale(0.92 1.33)" text-anchor="middle" class="tk">140.0</text>
<line x1="199.48" y1="171.0" x2="199.48" y2="173.30" stroke="#777777" stroke-width="1.1"/>
<text transform="translate(199.48 180.30) scale(0.92 1.33)" text-anchor="middle" class="tk">160.0</text>
<line x1="220.99" y1="171.0" x2="220.99" y2="173.30" stroke="#777777" stroke-width="1.1"/>
<text transform="translate(220.99 180.30) scale(0.92 1.33)" text-anchor="middle" class="tk">180.0</text>
<line x1="242.50" y1="171.0" x2="242.50" y2="173.30" stroke="#777777" stroke-width="1.1"/>
<text transform="translate(242.50 180.30) scale(0.92 1.33)" text-anchor="middle" class="tk">200.0</text>
<line x1="25.10" y1="171.00" x2="27.4" y2="171.00" stroke="#777777" stroke-width="1.1"/>
<text transform="translate(22.10 174.20) scale(0.92 1.33)" text-anchor="end" class="tk">0</text>
<line x1="25.10" y1="159.10" x2="27.4" y2="159.10" stroke="#777777" stroke-width="1.1"/>
<text transform="translate(22.10 162.30) scale(0.92 1.33)" text-anchor="end" class="tk">0.2</text>
<line x1="25.10" y1="147.20" x2="27.4" y2="147.20" stroke="#777777" stroke-width="1.1"/>
<text transform="translate(22.10 150.40) scale(0.92 1.33)" text-anchor="end" class="tk">0.4</text>
<line x1="25.10" y1="135.30" x2="27.4" y2="135.30" stroke="#777777" stroke-width="1.1"/>
<text transform="translate(22.10 138.50) scale(0.92 1.33)" text-anchor="end" class="tk">0.6</text>
<line x1="25.10" y1="123.40" x2="27.4" y2="123.40" stroke="#777777" stroke-width="1.1"/>
<text transform="translate(22.10 126.60) scale(0.92 1.33)" text-anchor="end" class="tk">0.8</text>
<line x1="25.10" y1="111.50" x2="27.4" y2="111.50" stroke="#777777" stroke-width="1.1"/>
<text transform="translate(22.10 114.70) scale(0.92 1.33)" text-anchor="end" class="tk">1.0</text>
<text x="137.70" y="104.70" text-anchor="middle" class="ti" textLength="55.4" lengthAdjust="spacingAndGlyphs">Without Snow</text>
<text x="137.70" y="188.60" text-anchor="middle" class="xl" textLength="40.3" lengthAdjust="spacingAndGlyphs">Distance(m)</text>
<text x="10.10" y="139.76" text-anchor="middle" class="xl" transform="rotate(-90 10.10 139.76)" textLength="48.8" lengthAdjust="spacingAndGlyphs">Intensity value</text>
<use href="#blueR" transform="translate(0 0.00)"/>
<line x1="319.5" y1="108.44" x2="319.5" y2="171.50" stroke="#777777" stroke-width="1.1"/>
<line x1="319.0" y1="171.0" x2="540.4" y2="171.0" stroke="#777777" stroke-width="1.1"/>
<line x1="319.50" y1="171.0" x2="319.50" y2="173.30" stroke="#777777" stroke-width="1.1"/>
<text transform="translate(319.50 180.30) scale(0.92 1.33)" text-anchor="middle" class="tk">0.0</text>
<line x1="341.14" y1="171.0" x2="341.14" y2="173.30" stroke="#777777" stroke-width="1.1"/>
<text transform="translate(341.14 180.30) scale(0.92 1.33)" text-anchor="middle" class="tk">10.0</text>
<line x1="362.78" y1="171.0" x2="362.78" y2="173.30" stroke="#777777" stroke-width="1.1"/>
<text transform="translate(362.78 180.30) scale(0.92 1.33)" text-anchor="middle" class="tk">20.0</text>
<line x1="384.42" y1="171.0" x2="384.42" y2="173.30" stroke="#777777" stroke-width="1.1"/>
<text transform="translate(384.42 180.30) scale(0.92 1.33)" text-anchor="middle" class="tk">30.0</text>
<line x1="406.06" y1="171.0" x2="406.06" y2="173.30" stroke="#777777" stroke-width="1.1"/>
<text transform="translate(406.06 180.30) scale(0.92 1.33)" text-anchor="middle" class="tk">40.0</text>
<line x1="427.70" y1="171.0" x2="427.70" y2="173.30" stroke="#777777" stroke-width="1.1"/>
<text transform="translate(427.70 180.30) scale(0.92 1.33)" text-anchor="middle" class="tk">50.0</text>
<line x1="449.34" y1="171.0" x2="449.34" y2="173.30" stroke="#777777" stroke-width="1.1"/>
<text transform="translate(449.34 180.30) scale(0.92 1.33)" text-anchor="middle" class="tk">60.0</text>
<line x1="470.98" y1="171.0" x2="470.98" y2="173.30" stroke="#777777" stroke-width="1.1"/>
<text transform="translate(470.98 180.30) scale(0.92 1.33)" text-anchor="middle" class="tk">70.0</text>
<line x1="492.62" y1="171.0" x2="492.62" y2="173.30" stroke="#777777" stroke-width="1.1"/>
<text transform="translate(492.62 180.30) scale(0.92 1.33)" text-anchor="middle" class="tk">80.0</text>
<line x1="514.26" y1="171.0" x2="514.26" y2="173.30" stroke="#777777" stroke-width="1.1"/>
<text transform="translate(514.26 180.30) scale(0.92 1.33)" text-anchor="middle" class="tk">90.0</text>
<line x1="535.90" y1="171.0" x2="535.90" y2="173.30" stroke="#777777" stroke-width="1.1"/>
<text transform="translate(535.90 180.30) scale(0.92 1.33)" text-anchor="middle" class="tk">100.0</text>
<line x1="317.20" y1="171.00" x2="319.5" y2="171.00" stroke="#777777" stroke-width="1.1"/>
<text transform="translate(314.20 174.20) scale(0.92 1.33)" text-anchor="end" class="tk">0</text>
<line x1="317.20" y1="151.57" x2="319.5" y2="151.57" stroke="#777777" stroke-width="1.1"/>
<text transform="translate(314.20 154.77) scale(0.92 1.33)" text-anchor="end" class="tk">0.1</text>
<line x1="317.20" y1="132.14" x2="319.5" y2="132.14" stroke="#777777" stroke-width="1.1"/>
<text transform="translate(314.20 135.34) scale(0.92 1.33)" text-anchor="end" class="tk">0.2</text>
<line x1="317.20" y1="112.71" x2="319.5" y2="112.71" stroke="#777777" stroke-width="1.1"/>
<text transform="translate(314.20 115.91) scale(0.92 1.33)" text-anchor="end" class="tk">0.3</text>
<text x="429.95" y="104.70" text-anchor="middle" class="ti" textLength="55.4" lengthAdjust="spacingAndGlyphs">Without Snow</text>
<text x="429.95" y="188.60" text-anchor="middle" class="xl" textLength="40.3" lengthAdjust="spacingAndGlyphs">Distance(m)</text>
<text x="302.20" y="139.72" text-anchor="middle" class="xl" transform="rotate(-90 302.20 139.72)" textLength="48.8" lengthAdjust="spacingAndGlyphs">Intensity value</text>
<polygon points="28.54,264.90 28.94,264.32 29.54,263.98 30.38,263.80 31.63,263.80 32.52,264.01 33.12,264.35 33.52,264.90" fill="#ffa500"/>
<polygon points="33.12,264.90 33.62,264.35 34.36,264.29 35.11,264.90" fill="#ffa500"/>
<polygon points="34.86,264.90 35.36,264.59 38.59,264.53 39.08,264.90" fill="#ffa500"/>
<polygon points="41.67,264.90 41.97,264.20 42.57,263.80 43.16,263.61 43.86,263.86 44.26,264.35 44.55,264.90" fill="#ffa500"/>
<polygon points="63.35,264.90 63.70,264.50 65.44,264.41 66.43,264.04 67.03,264.20 67.43,264.90" fill="#ffa500"/>
<polygon points="103.48,264.90 103.97,264.20 104.47,263.89 105.22,263.80 105.71,264.20 106.11,264.90" fill="#ffa500"/>
<polygon points="44.31,264.90 44.80,264.41 46.54,264.35 47.04,264.90" fill="#ffa500"/>
<line x1="35.70" y1="262.05" x2="35.70" y2="264.90" stroke="#ffa500" stroke-width="1.7600000000000002"/>
<line x1="36.30" y1="261.44" x2="36.30" y2="264.90" stroke="#ffa500" stroke-width="1.7600000000000002"/>
<line x1="37.05" y1="260.61" x2="37.05" y2="264.90" stroke="#ffa500" stroke-width="1.7600000000000002"/>
<line x1="37.69" y1="261.44" x2="37.69" y2="264.90" stroke="#ffa500" stroke-width="1.7600000000000002"/>
<line x1="47.69" y1="259.91" x2="47.69" y2="264.90" stroke="#ffa500" stroke-width="1.6500000000000001"/>
<line x1="50.47" y1="258.38" x2="50.47" y2="264.90" stroke="#ffa500" stroke-width="1.6500000000000001"/>
<line x1="105.22" y1="262.66" x2="105.22" y2="264.90" stroke="#ffa500" stroke-width="1.6500000000000001"/>
<circle cx="43.06" cy="262.76" r="0.85" fill="#ffa500"/>
<circle cx="42.37" cy="263.19" r="0.85" fill="#ffa500"/>
<circle cx="43.91" cy="263.06" r="0.85" fill="#ffa500"/>
<circle cx="42.66" cy="262.82" r="0.85" fill="#ffa500"/>
<circle cx="41.82" cy="263.58" r="0.85" fill="#ffa500"/>
<circle cx="44.31" cy="263.49" r="0.85" fill="#ffa500"/>
<circle cx="66.53" cy="263.55" r="0.85" fill="#ffa500"/>
<circle cx="64.19" cy="263.98" r="0.85" fill="#ffa500"/>
<circle cx="38.29" cy="260.92" r="0.85" fill="#ffa500"/>
<circle cx="38.29" cy="261.90" r="0.85" fill="#ffa500"/>
<circle cx="38.29" cy="263.03" r="0.85" fill="#ffa500"/>
<circle cx="38.29" cy="263.77" r="0.85" fill="#ffa500"/>
<circle cx="35.75" cy="262.51" r="0.85" fill="#ffa500"/>
<circle cx="35.90" cy="263.74" r="0.85" fill="#ffa500"/>
<circle cx="37.39" cy="262.21" r="0.85" fill="#ffa500"/>
<circle cx="45.35" cy="262.17" r="0.85" fill="#ffa500"/>
<circle cx="46.15" cy="261.16" r="0.85" fill="#ffa500"/>
<circle cx="46.15" cy="264.13" r="0.85" fill="#ffa500"/>
<circle cx="48.68" cy="262.91" r="0.85" fill="#ffa500"/>
<circle cx="48.48" cy="261.90" r="0.85" fill="#ffa500"/>
<circle cx="47.29" cy="263.74" r="0.85" fill="#ffa500"/>
<circle cx="52.91" cy="262.91" r="0.85" fill="#ffa500"/>
<circle cx="52.51" cy="263.77" r="0.85" fill="#ffa500"/>
<circle cx="51.07" cy="264.26" r="0.85" fill="#ffa500"/>
<circle cx="53.50" cy="264.66" r="0.85" fill="#ffa500"/>
<circle cx="56.49" cy="264.26" r="0.85" fill="#ffa500"/>
<circle cx="60.32" cy="264.38" r="0.85" fill="#ffa500"/>
<circle cx="61.71" cy="259.82" r="0.85" fill="#ffa500"/>
<circle cx="61.71" cy="261.65" r="0.85" fill="#ffa500"/>
<circle cx="61.71" cy="264.26" r="0.85" fill="#ffa500"/>
<circle cx="63.75" cy="264.01" r="0.85" fill="#ffa500"/>
<circle cx="64.54" cy="264.38" r="0.85" fill="#ffa500"/>
<circle cx="72.25" cy="264.62" r="0.85" fill="#ffa500"/>
<circle cx="75.68" cy="257.80" r="0.85" fill="#ffa500"/>
<circle cx="75.68" cy="258.47" r="0.85" fill="#ffa500"/>
<circle cx="75.68" cy="260.09" r="0.85" fill="#ffa500"/>
<circle cx="75.68" cy="260.77" r="0.85" fill="#ffa500"/>
<circle cx="75.68" cy="261.44" r="0.85" fill="#ffa500"/>
<circle cx="75.68" cy="262.24" r="0.85" fill="#ffa500"/>
<circle cx="75.68" cy="262.91" r="0.85" fill="#ffa500"/>
<circle cx="75.68" cy="263.74" r="0.85" fill="#ffa500"/>
<circle cx="75.68" cy="264.07" r="0.85" fill="#ffa500"/>
<circle cx="80.35" cy="258.96" r="0.85" fill="#ffa500"/>
<circle cx="78.61" cy="260.03" r="0.85" fill="#ffa500"/>
<circle cx="79.56" cy="262.88" r="0.85" fill="#ffa500"/>
<circle cx="81.00" cy="263.37" r="0.85" fill="#ffa500"/>
<circle cx="82.09" cy="263.12" r="0.85" fill="#ffa500"/>
<circle cx="83.14" cy="262.24" r="0.85" fill="#ffa500"/>
<circle cx="81.00" cy="264.62" r="0.85" fill="#ffa500"/>
<circle cx="84.08" cy="263.86" r="0.85" fill="#ffa500"/>
<circle cx="85.03" cy="264.04" r="0.85" fill="#ffa500"/>
<circle cx="86.87" cy="262.88" r="0.85" fill="#ffa500"/>
<circle cx="87.66" cy="262.66" r="0.85" fill="#ffa500"/>
<circle cx="88.91" cy="261.53" r="0.85" fill="#ffa500"/>
<circle cx="90.15" cy="263.37" r="0.85" fill="#ffa500"/>
<circle cx="92.39" cy="263.37" r="0.85" fill="#ffa500"/>
<circle cx="99.35" cy="251.55" r="0.85" fill="#ffa500"/>
<circle cx="99.35" cy="252.25" r="0.85" fill="#ffa500"/>
<circle cx="99.35" cy="253.91" r="0.85" fill="#ffa500"/>
<circle cx="100.29" cy="254.61" r="0.85" fill="#ffa500"/>
<circle cx="99.35" cy="255.77" r="0.85" fill="#ffa500"/>
<circle cx="99.35" cy="259.85" r="0.85" fill="#ffa500"/>
<circle cx="99.35" cy="260.83" r="0.85" fill="#ffa500"/>
<circle cx="99.35" cy="261.23" r="0.85" fill="#ffa500"/>
<circle cx="99.35" cy="264.13" r="0.85" fill="#ffa500"/>
<circle cx="107.85" cy="264.53" r="0.85" fill="#ffa500"/>
<circle cx="104.97" cy="262.97" r="0.85" fill="#ffa500"/>
<circle cx="105.37" cy="263.28" r="0.85" fill="#ffa500"/>
<circle cx="104.47" cy="263.43" r="0.85" fill="#ffa500"/>
<circle cx="105.22" cy="262.66" r="0.85" fill="#ffa500"/>
<circle cx="120.28" cy="254.86" r="0.85" fill="#ffa500"/>
<circle cx="120.28" cy="260.06" r="0.85" fill="#ffa500"/>
<circle cx="120.28" cy="261.01" r="0.85" fill="#ffa500"/>
<circle cx="120.28" cy="261.90" r="0.85" fill="#ffa500"/>
<circle cx="120.28" cy="263.15" r="0.85" fill="#ffa500"/>
<circle cx="120.28" cy="263.55" r="0.85" fill="#ffa500"/>
<circle cx="120.28" cy="264.13" r="0.85" fill="#ffa500"/>
<circle cx="120.28" cy="264.50" r="0.85" fill="#ffa500"/>
<circle cx="123.76" cy="253.23" r="0.85" fill="#ffa500"/>
<circle cx="123.76" cy="254.86" r="0.85" fill="#ffa500"/>
<circle cx="123.76" cy="258.47" r="0.85" fill="#ffa500"/>
<circle cx="123.76" cy="259.85" r="0.85" fill="#ffa500"/>
<circle cx="123.76" cy="262.17" r="0.85" fill="#ffa500"/>
<circle cx="124.51" cy="264.26" r="0.85" fill="#ffa500"/>
<circle cx="126.85" cy="254.58" r="0.85" fill="#ffa500"/>
<circle cx="126.85" cy="261.19" r="0.85" fill="#ffa500"/>
<circle cx="126.85" cy="261.78" r="0.85" fill="#ffa500"/>
<circle cx="126.85" cy="262.39" r="0.85" fill="#ffa500"/>
<circle cx="126.85" cy="262.76" r="0.85" fill="#ffa500"/>
<circle cx="120.32" cy="205.40" r="0.9" fill="#ffa500"/>
<rect x="29.01" y="263.30" width="11.29" height="1.4" fill="#ffa500"/>
<rect x="40.84" y="263.50" width="4.84" height="1.2" fill="#ffa500"/>
<rect x="46.22" y="263.40" width="8.07" height="1.3" fill="#ffa500"/>
<rect x="55.36" y="263.70" width="4.30" height="1.0" fill="#ffa500"/>
<rect x="60.74" y="263.60" width="7.53" height="1.1" fill="#ffa500"/>
<rect x="69.34" y="263.70" width="6.45" height="1.0" fill="#ffa500"/>
<rect x="77.95" y="263.80" width="5.38" height="0.9" fill="#ffa500"/>
<rect x="84.40" y="263.80" width="7.53" height="0.9" fill="#ffa500"/>
<rect x="96.23" y="263.80" width="9.68" height="0.9" fill="#ffa500"/>
<rect x="118.82" y="263.80" width="8.60" height="0.9" fill="#ffa500"/>
<line x1="27.4" y1="247.05" x2="248.0" y2="247.05" stroke="#2ca02c" stroke-width="1.4" stroke-dasharray="3.6 1.6"/>
<line x1="134.95" y1="202.42" x2="134.95" y2="264.90" stroke="#2ca02c" stroke-width="1.4" stroke-dasharray="3.6 1.6"/>
<line x1="27.4" y1="202.42" x2="27.4" y2="265.40" stroke="#777777" stroke-width="1.1"/>
<line x1="26.9" y1="264.9" x2="248.0" y2="264.9" stroke="#777777" stroke-width="1.1"/>
<line x1="27.40" y1="264.9" x2="27.40" y2="267.20" stroke="#777777" stroke-width="1.1"/>
<text transform="translate(27.40 274.20) scale(0.92 1.33)" text-anchor="middle" class="tk">0.0</text>
<line x1="48.91" y1="264.9" x2="48.91" y2="267.20" stroke="#777777" stroke-width="1.1"/>
<text transform="translate(48.91 274.20) scale(0.92 1.33)" text-anchor="middle" class="tk">20.0</text>
<line x1="70.42" y1="264.9" x2="70.42" y2="267.20" stroke="#777777" stroke-width="1.1"/>
<text transform="translate(70.42 274.20) scale(0.92 1.33)" text-anchor="middle" class="tk">40.0</text>
<line x1="91.93" y1="264.9" x2="91.93" y2="267.20" stroke="#777777" stroke-width="1.1"/>
<text transform="translate(91.93 274.20) scale(0.92 1.33)" text-anchor="middle" class="tk">60.0</text>
<line x1="113.44" y1="264.9" x2="113.44" y2="267.20" stroke="#777777" stroke-width="1.1"/>
<text transform="translate(113.44 274.20) scale(0.92 1.33)" text-anchor="middle" class="tk">80.0</text>
<line x1="134.95" y1="264.9" x2="134.95" y2="267.20" stroke="#777777" stroke-width="1.1"/>
<text transform="translate(134.95 274.20) scale(0.92 1.33)" text-anchor="middle" class="tk">100.0</text>
<line x1="156.46" y1="264.9" x2="156.46" y2="267.20" stroke="#777777" stroke-width="1.1"/>
<text transform="translate(156.46 274.20) scale(0.92 1.33)" text-anchor="middle" class="tk">120.0</text>
<line x1="177.97" y1="264.9" x2="177.97" y2="267.20" stroke="#777777" stroke-width="1.1"/>
<text transform="translate(177.97 274.20) scale(0.92 1.33)" text-anchor="middle" class="tk">140.0</text>
<line x1="199.48" y1="264.9" x2="199.48" y2="267.20" stroke="#777777" stroke-width="1.1"/>
<text transform="translate(199.48 274.20) scale(0.92 1.33)" text-anchor="middle" class="tk">160.0</text>
<line x1="220.99" y1="264.9" x2="220.99" y2="267.20" stroke="#777777" stroke-width="1.1"/>
<text transform="translate(220.99 274.20) scale(0.92 1.33)" text-anchor="middle" class="tk">180.0</text>
<line x1="242.50" y1="264.9" x2="242.50" y2="267.20" stroke="#777777" stroke-width="1.1"/>
<text transform="translate(242.50 274.20) scale(0.92 1.33)" text-anchor="middle" class="tk">200.0</text>
<line x1="25.10" y1="264.90" x2="27.4" y2="264.90" stroke="#777777" stroke-width="1.1"/>
<text transform="translate(22.10 268.10) scale(0.92 1.33)" text-anchor="end" class="tk">0</text>
<line x1="25.10" y1="253.00" x2="27.4" y2="253.00" stroke="#777777" stroke-width="1.1"/>
<text transform="translate(22.10 256.20) scale(0.92 1.33)" text-anchor="end" class="tk">0.2</text>
<line x1="25.10" y1="241.10" x2="27.4" y2="241.10" stroke="#777777" stroke-width="1.1"/>
<text transform="translate(22.10 244.30) scale(0.92 1.33)" text-anchor="end" class="tk">0.4</text>
<line x1="25.10" y1="229.20" x2="27.4" y2="229.20" stroke="#777777" stroke-width="1.1"/>
<text transform="translate(22.10 232.40) scale(0.92 1.33)" text-anchor="end" class="tk">0.6</text>
<line x1="25.10" y1="217.30" x2="27.4" y2="217.30" stroke="#777777" stroke-width="1.1"/>
<text transform="translate(22.10 220.50) scale(0.92 1.33)" text-anchor="end" class="tk">0.8</text>
<line x1="25.10" y1="205.40" x2="27.4" y2="205.40" stroke="#777777" stroke-width="1.1"/>
<text transform="translate(22.10 208.60) scale(0.92 1.33)" text-anchor="end" class="tk">1.0</text>
<text x="137.70" y="198.40" text-anchor="middle" class="ti" textLength="50.0" lengthAdjust="spacingAndGlyphs">Falling Snow</text>
<text x="137.70" y="282.50" text-anchor="middle" class="xl" textLength="40.3" lengthAdjust="spacingAndGlyphs">Distance(m)</text>
<text x="10.10" y="233.66" text-anchor="middle" class="xl" transform="rotate(-90 10.10 233.66)" textLength="48.8" lengthAdjust="spacingAndGlyphs">Intensity value</text>
<polygon points="321.80,264.90 322.60,263.00 323.80,261.90 325.50,261.30 328.00,261.30 329.80,262.00 331.00,263.10 331.80,264.90" fill="#ffa500"/>
<polygon points="331.00,264.90 332.00,263.10 333.50,262.90 335.00,264.90" fill="#ffa500"/>
<polygon points="334.50,264.90 335.50,263.90 342.00,263.70 343.00,264.90" fill="#ffa500"/>
<polygon points="348.20,264.90 348.80,262.60 350.00,261.30 351.20,260.70 352.60,261.50 353.40,263.10 354.00,264.90" fill="#ffa500"/>
<polygon points="391.80,264.90 392.50,263.60 396.00,263.30 398.00,262.10 399.20,262.60 400.00,264.90" fill="#ffa500"/>
<polygon points="472.50,264.90 473.50,262.60 474.50,261.60 476.00,261.30 477.00,262.60 477.80,264.90" fill="#ffa500"/>
<polygon points="353.50,264.90 354.50,263.30 358.00,263.10 359.00,264.90" fill="#ffa500"/>
<line x1="336.20" y1="256.60" x2="336.20" y2="264.90" stroke="#ffa500" stroke-width="1.1"/>
<circle cx="336.52" cy="256.20" r="0.85" fill="#ffa500"/>
<circle cx="336.22" cy="258.13" r="0.85" fill="#ffa500"/>
<circle cx="336.23" cy="259.90" r="0.85" fill="#ffa500"/>
<circle cx="335.94" cy="261.37" r="0.85" fill="#ffa500"/>
<circle cx="336.19" cy="262.72" r="0.85" fill="#ffa500"/>
<circle cx="336.29" cy="264.14" r="0.85" fill="#ffa500"/>
<line x1="337.40" y1="254.60" x2="337.40" y2="264.90" stroke="#ffa500" stroke-width="1.1"/>
<circle cx="337.22" cy="254.20" r="0.85" fill="#ffa500"/>
<circle cx="337.37" cy="256.08" r="0.85" fill="#ffa500"/>
<circle cx="337.72" cy="257.76" r="0.85" fill="#ffa500"/>
<circle cx="337.28" cy="259.55" r="0.85" fill="#ffa500"/>
<circle cx="337.09" cy="261.50" r="0.85" fill="#ffa500"/>
<circle cx="337.47" cy="263.26" r="0.85" fill="#ffa500"/>
<circle cx="337.39" cy="264.76" r="0.85" fill="#ffa500"/>
<line x1="338.90" y1="251.90" x2="338.90" y2="264.90" stroke="#ffa500" stroke-width="1.1"/>
<circle cx="339.01" cy="251.50" r="0.85" fill="#ffa500"/>
<circle cx="338.90" cy="253.24" r="0.85" fill="#ffa500"/>
<circle cx="339.22" cy="254.56" r="0.85" fill="#ffa500"/>
<circle cx="338.95" cy="256.43" r="0.85" fill="#ffa500"/>
<circle cx="338.64" cy="258.12" r="0.85" fill="#ffa500"/>
<circle cx="339.24" cy="259.73" r="0.85" fill="#ffa500"/>
<circle cx="338.97" cy="261.38" r="0.85" fill="#ffa500"/>
<circle cx="339.13" cy="263.31" r="0.85" fill="#ffa500"/>
<line x1="340.20" y1="254.60" x2="340.20" y2="264.90" stroke="#ffa500" stroke-width="1.1"/>
<circle cx="340.39" cy="254.20" r="0.85" fill="#ffa500"/>
<circle cx="340.06" cy="256.16" r="0.85" fill="#ffa500"/>
<circle cx="339.88" cy="257.55" r="0.85" fill="#ffa500"/>
<circle cx="340.42" cy="258.79" r="0.85" fill="#ffa500"/>
<circle cx="340.24" cy="260.06" r="0.85" fill="#ffa500"/>
<circle cx="340.46" cy="262.02" r="0.85" fill="#ffa500"/>
<circle cx="340.15" cy="263.66" r="0.85" fill="#ffa500"/>
<line x1="360.30" y1="249.60" x2="360.30" y2="264.90" stroke="#ffa500" stroke-width="1.1"/>
<circle cx="360.07" cy="249.20" r="0.85" fill="#ffa500"/>
<circle cx="360.40" cy="250.55" r="0.85" fill="#ffa500"/>
<circle cx="360.44" cy="252.40" r="0.85" fill="#ffa500"/>
<circle cx="360.28" cy="253.83" r="0.85" fill="#ffa500"/>
<circle cx="360.38" cy="255.57" r="0.85" fill="#ffa500"/>
<circle cx="360.40" cy="257.03" r="0.85" fill="#ffa500"/>
<circle cx="359.97" cy="259.03" r="0.85" fill="#ffa500"/>
<circle cx="360.55" cy="260.41" r="0.85" fill="#ffa500"/>
<circle cx="360.26" cy="262.22" r="0.85" fill="#ffa500"/>
<circle cx="360.50" cy="263.54" r="0.85" fill="#ffa500"/>
<line x1="365.90" y1="244.60" x2="365.90" y2="264.90" stroke="#ffa500" stroke-width="1.1"/>
<circle cx="366.05" cy="244.20" r="0.85" fill="#ffa500"/>
<circle cx="365.64" cy="245.75" r="0.85" fill="#ffa500"/>
<circle cx="365.80" cy="247.23" r="0.85" fill="#ffa500"/>
<circle cx="365.75" cy="248.50" r="0.85" fill="#ffa500"/>
<circle cx="365.86" cy="250.19" r="0.85" fill="#ffa500"/>
<circle cx="365.92" cy="252.20" r="0.85" fill="#ffa500"/>
<circle cx="365.62" cy="254.09" r="0.85" fill="#ffa500"/>
<circle cx="365.96" cy="255.78" r="0.85" fill="#ffa500"/>
<circle cx="365.81" cy="257.52" r="0.85" fill="#ffa500"/>
<circle cx="366.18" cy="258.99" r="0.85" fill="#ffa500"/>
<circle cx="365.79" cy="260.40" r="0.85" fill="#ffa500"/>
<circle cx="366.24" cy="262.40" r="0.85" fill="#ffa500"/>
<circle cx="366.03" cy="264.00" r="0.85" fill="#ffa500"/>
<line x1="476.00" y1="258.60" x2="476.00" y2="264.90" stroke="#ffa500" stroke-width="1.1"/>
<circle cx="476.14" cy="258.20" r="0.85" fill="#ffa500"/>
<circle cx="476.00" cy="259.42" r="0.85" fill="#ffa500"/>
<circle cx="476.16" cy="261.19" r="0.85" fill="#ffa500"/>
<circle cx="476.30" cy="263.17" r="0.85" fill="#ffa500"/>
<circle cx="351.00" cy="257.90" r="0.85" fill="#ffa500"/>
<circle cx="349.60" cy="259.30" r="0.85" fill="#ffa500"/>
<circle cx="352.70" cy="258.90" r="0.85" fill="#ffa500"/>
<circle cx="350.20" cy="258.10" r="0.85" fill="#ffa500"/>
<circle cx="348.50" cy="260.60" r="0.85" fill="#ffa500"/>
<circle cx="353.50" cy="260.30" r="0.85" fill="#ffa500"/>
<circle cx="398.20" cy="260.50" r="0.85" fill="#ffa500"/>
<circle cx="393.50" cy="261.90" r="0.85" fill="#ffa500"/>
<circle cx="341.40" cy="251.90" r="0.85" fill="#ffa500"/>
<circle cx="341.40" cy="255.10" r="0.85" fill="#ffa500"/>
<circle cx="341.40" cy="258.80" r="0.85" fill="#ffa500"/>
<circle cx="341.40" cy="261.20" r="0.85" fill="#ffa500"/>
<circle cx="336.30" cy="257.10" r="0.85" fill="#ffa500"/>
<circle cx="336.60" cy="261.10" r="0.85" fill="#ffa500"/>
<circle cx="339.60" cy="256.10" r="0.85" fill="#ffa500"/>
<circle cx="355.60" cy="256.00" r="0.85" fill="#ffa500"/>
<circle cx="357.20" cy="252.70" r="0.85" fill="#ffa500"/>
<circle cx="357.20" cy="262.40" r="0.85" fill="#ffa500"/>
<circle cx="362.30" cy="258.40" r="0.85" fill="#ffa500"/>
<circle cx="361.90" cy="255.10" r="0.85" fill="#ffa500"/>
<circle cx="359.50" cy="261.10" r="0.85" fill="#ffa500"/>
<circle cx="370.80" cy="258.40" r="0.85" fill="#ffa500"/>
<circle cx="370.00" cy="261.20" r="0.85" fill="#ffa500"/>
<circle cx="367.10" cy="262.80" r="0.85" fill="#ffa500"/>
<circle cx="372.00" cy="264.10" r="0.85" fill="#ffa500"/>
<circle cx="378.00" cy="262.80" r="0.85" fill="#ffa500"/>
<circle cx="385.70" cy="263.20" r="0.85" fill="#ffa500"/>
<circle cx="388.50" cy="248.30" r="0.85" fill="#ffa500"/>
<circle cx="388.50" cy="254.30" r="0.85" fill="#ffa500"/>
<circle cx="388.50" cy="262.80" r="0.85" fill="#ffa500"/>
<circle cx="392.60" cy="262.00" r="0.85" fill="#ffa500"/>
<circle cx="394.20" cy="263.20" r="0.85" fill="#ffa500"/>
<circle cx="409.70" cy="264.00" r="0.85" fill="#ffa500"/>
<circle cx="416.60" cy="241.70" r="0.85" fill="#ffa500"/>
<circle cx="416.60" cy="243.90" r="0.85" fill="#ffa500"/>
<circle cx="416.60" cy="249.20" r="0.85" fill="#ffa500"/>
<circle cx="416.60" cy="251.40" r="0.85" fill="#ffa500"/>
<circle cx="416.60" cy="253.60" r="0.85" fill="#ffa500"/>
<circle cx="416.60" cy="256.20" r="0.85" fill="#ffa500"/>
<circle cx="416.60" cy="258.40" r="0.85" fill="#ffa500"/>
<circle cx="416.60" cy="261.10" r="0.85" fill="#ffa500"/>
<circle cx="416.60" cy="262.20" r="0.85" fill="#ffa500"/>
<circle cx="426.00" cy="245.50" r="0.85" fill="#ffa500"/>
<circle cx="422.50" cy="249.00" r="0.85" fill="#ffa500"/>
<circle cx="424.40" cy="258.30" r="0.85" fill="#ffa500"/>
<circle cx="427.30" cy="259.90" r="0.85" fill="#ffa500"/>
<circle cx="429.50" cy="259.10" r="0.85" fill="#ffa500"/>
<circle cx="431.60" cy="256.20" r="0.85" fill="#ffa500"/>
<circle cx="427.30" cy="264.00" r="0.85" fill="#ffa500"/>
<circle cx="433.50" cy="261.50" r="0.85" fill="#ffa500"/>
<circle cx="435.40" cy="262.10" r="0.85" fill="#ffa500"/>
<circle cx="439.10" cy="258.30" r="0.85" fill="#ffa500"/>
<circle cx="440.70" cy="257.60" r="0.85" fill="#ffa500"/>
<circle cx="443.20" cy="253.90" r="0.85" fill="#ffa500"/>
<circle cx="445.70" cy="259.90" r="0.85" fill="#ffa500"/>
<circle cx="450.20" cy="259.90" r="0.85" fill="#ffa500"/>
<circle cx="464.20" cy="221.30" r="0.85" fill="#ffa500"/>
<circle cx="464.20" cy="223.60" r="0.85" fill="#ffa500"/>
<circle cx="464.20" cy="229.00" r="0.85" fill="#ffa500"/>
<circle cx="466.10" cy="231.30" r="0.85" fill="#ffa500"/>
<circle cx="464.20" cy="235.10" r="0.85" fill="#ffa500"/>
<circle cx="464.20" cy="248.40" r="0.85" fill="#ffa500"/>
<circle cx="464.20" cy="251.60" r="0.85" fill="#ffa500"/>
<circle cx="464.20" cy="252.90" r="0.85" fill="#ffa500"/>
<circle cx="464.20" cy="262.40" r="0.85" fill="#ffa500"/>
<circle cx="481.30" cy="263.70" r="0.85" fill="#ffa500"/>
<circle cx="475.50" cy="258.60" r="0.85" fill="#ffa500"/>
<circle cx="476.30" cy="259.60" r="0.85" fill="#ffa500"/>
<circle cx="474.50" cy="260.10" r="0.85" fill="#ffa500"/>
<circle cx="476.00" cy="257.60" r="0.85" fill="#ffa500"/>
<circle cx="506.30" cy="232.10" r="0.85" fill="#ffa500"/>
<circle cx="506.30" cy="249.10" r="0.85" fill="#ffa500"/>
<circle cx="506.30" cy="252.20" r="0.85" fill="#ffa500"/>
<circle cx="506.30" cy="255.10" r="0.85" fill="#ffa500"/>
<circle cx="506.30" cy="259.20" r="0.85" fill="#ffa500"/>
<circle cx="506.30" cy="260.50" r="0.85" fill="#ffa500"/>
<circle cx="506.30" cy="262.40" r="0.85" fill="#ffa500"/>
<circle cx="506.30" cy="263.60" r="0.85" fill="#ffa500"/>
<circle cx="513.30" cy="226.80" r="0.85" fill="#ffa500"/>
<circle cx="513.30" cy="232.10" r="0.85" fill="#ffa500"/>
<circle cx="513.30" cy="243.90" r="0.85" fill="#ffa500"/>
<circle cx="513.30" cy="248.40" r="0.85" fill="#ffa500"/>
<circle cx="513.30" cy="256.00" r="0.85" fill="#ffa500"/>
<circle cx="514.80" cy="262.80" r="0.85" fill="#ffa500"/>
<circle cx="519.50" cy="231.20" r="0.85" fill="#ffa500"/>
<circle cx="519.50" cy="252.80" r="0.85" fill="#ffa500"/>
<circle cx="519.50" cy="254.70" r="0.85" fill="#ffa500"/>
<circle cx="519.50" cy="256.70" r="0.85" fill="#ffa500"/>
<circle cx="519.50" cy="257.90" r="0.85" fill="#ffa500"/>
<line x1="319.5" y1="202.34" x2="319.5" y2="265.40" stroke="#777777" stroke-width="1.1"/>
<line x1="319.0" y1="264.9" x2="540.4" y2="264.9" stroke="#777777" stroke-width="1.1"/>
<line x1="319.50" y1="264.9" x2="319.50" y2="267.20" stroke="#777777" stroke-width="1.1"/>
<text transform="translate(319.50 274.20) scale(0.92 1.33)" text-anchor="middle" class="tk">0.0</text>
<line x1="341.14" y1="264.9" x2="341.14" y2="267.20" stroke="#777777" stroke-width="1.1"/>
<text transform="translate(341.14 274.20) scale(0.92 1.33)" text-anchor="middle" class="tk">10.0</text>
<line x1="362.78" y1="264.9" x2="362.78" y2="267.20" stroke="#777777" stroke-width="1.1"/>
<text transform="translate(362.78 274.20) scale(0.92 1.33)" text-anchor="middle" class="tk">20.0</text>
<line x1="384.42" y1="264.9" x2="384.42" y2="267.20" stroke="#777777" stroke-width="1.1"/>
<text transform="translate(384.42 274.20) scale(0.92 1.33)" text-anchor="middle" class="tk">30.0</text>
<line x1="406.06" y1="264.9" x2="406.06" y2="267.20" stroke="#777777" stroke-width="1.1"/>
<text transform="translate(406.06 274.20) scale(0.92 1.33)" text-anchor="middle" class="tk">40.0</text>
<line x1="427.70" y1="264.9" x2="427.70" y2="267.20" stroke="#777777" stroke-width="1.1"/>
<text transform="translate(427.70 274.20) scale(0.92 1.33)" text-anchor="middle" class="tk">50.0</text>
<line x1="449.34" y1="264.9" x2="449.34" y2="267.20" stroke="#777777" stroke-width="1.1"/>
<text transform="translate(449.34 274.20) scale(0.92 1.33)" text-anchor="middle" class="tk">60.0</text>
<line x1="470.98" y1="264.9" x2="470.98" y2="267.20" stroke="#777777" stroke-width="1.1"/>
<text transform="translate(470.98 274.20) scale(0.92 1.33)" text-anchor="middle" class="tk">70.0</text>
<line x1="492.62" y1="264.9" x2="492.62" y2="267.20" stroke="#777777" stroke-width="1.1"/>
<text transform="translate(492.62 274.20) scale(0.92 1.33)" text-anchor="middle" class="tk">80.0</text>
<line x1="514.26" y1="264.9" x2="514.26" y2="267.20" stroke="#777777" stroke-width="1.1"/>
<text transform="translate(514.26 274.20) scale(0.92 1.33)" text-anchor="middle" class="tk">90.0</text>
<line x1="535.90" y1="264.9" x2="535.90" y2="267.20" stroke="#777777" stroke-width="1.1"/>
<text transform="translate(535.90 274.20) scale(0.92 1.33)" text-anchor="middle" class="tk">100.0</text>
<line x1="317.20" y1="264.90" x2="319.5" y2="264.90" stroke="#777777" stroke-width="1.1"/>
<text transform="translate(314.20 268.10) scale(0.92 1.33)" text-anchor="end" class="tk">0</text>
<line x1="317.20" y1="245.47" x2="319.5" y2="245.47" stroke="#777777" stroke-width="1.1"/>
<text transform="translate(314.20 248.67) scale(0.92 1.33)" text-anchor="end" class="tk">0.1</text>
<line x1="317.20" y1="226.04" x2="319.5" y2="226.04" stroke="#777777" stroke-width="1.1"/>
<text transform="translate(314.20 229.24) scale(0.92 1.33)" text-anchor="end" class="tk">0.2</text>
<line x1="317.20" y1="206.61" x2="319.5" y2="206.61" stroke="#777777" stroke-width="1.1"/>
<text transform="translate(314.20 209.81) scale(0.92 1.33)" text-anchor="end" class="tk">0.3</text>
<text x="429.95" y="198.40" text-anchor="middle" class="ti" textLength="50.0" lengthAdjust="spacingAndGlyphs">Falling Snow</text>
<text x="429.95" y="282.50" text-anchor="middle" class="xl" textLength="40.3" lengthAdjust="spacingAndGlyphs">Distance(m)</text>
<text x="302.20" y="233.62" text-anchor="middle" class="xl" transform="rotate(-90 302.20 233.62)" textLength="48.8" lengthAdjust="spacingAndGlyphs">Intensity value</text>
<line x1="27.4" y1="340.95" x2="248.0" y2="340.95" stroke="#2ca02c" stroke-width="1.4" stroke-dasharray="3.6 1.6"/>
<line x1="134.95" y1="296.32" x2="134.95" y2="358.80" stroke="#2ca02c" stroke-width="1.4" stroke-dasharray="3.6 1.6"/>
<line x1="27.4" y1="296.32" x2="27.4" y2="359.30" stroke="#777777" stroke-width="1.1"/>
<line x1="26.9" y1="358.8" x2="248.0" y2="358.8" stroke="#777777" stroke-width="1.1"/>
<line x1="27.40" y1="358.8" x2="27.40" y2="361.10" stroke="#777777" stroke-width="1.1"/>
<text transform="translate(27.40 368.10) scale(0.92 1.33)" text-anchor="middle" class="tk">0.0</text>
<line x1="48.91" y1="358.8" x2="48.91" y2="361.10" stroke="#777777" stroke-width="1.1"/>
<text transform="translate(48.91 368.10) scale(0.92 1.33)" text-anchor="middle" class="tk">20.0</text>
<line x1="70.42" y1="358.8" x2="70.42" y2="361.10" stroke="#777777" stroke-width="1.1"/>
<text transform="translate(70.42 368.10) scale(0.92 1.33)" text-anchor="middle" class="tk">40.0</text>
<line x1="91.93" y1="358.8" x2="91.93" y2="361.10" stroke="#777777" stroke-width="1.1"/>
<text transform="translate(91.93 368.10) scale(0.92 1.33)" text-anchor="middle" class="tk">60.0</text>
<line x1="113.44" y1="358.8" x2="113.44" y2="361.10" stroke="#777777" stroke-width="1.1"/>
<text transform="translate(113.44 368.10) scale(0.92 1.33)" text-anchor="middle" class="tk">80.0</text>
<line x1="134.95" y1="358.8" x2="134.95" y2="361.10" stroke="#777777" stroke-width="1.1"/>
<text transform="translate(134.95 368.10) scale(0.92 1.33)" text-anchor="middle" class="tk">100.0</text>
<line x1="156.46" y1="358.8" x2="156.46" y2="361.10" stroke="#777777" stroke-width="1.1"/>
<text transform="translate(156.46 368.10) scale(0.92 1.33)" text-anchor="middle" class="tk">120.0</text>
<line x1="177.97" y1="358.8" x2="177.97" y2="361.10" stroke="#777777" stroke-width="1.1"/>
<text transform="translate(177.97 368.10) scale(0.92 1.33)" text-anchor="middle" class="tk">140.0</text>
<line x1="199.48" y1="358.8" x2="199.48" y2="361.10" stroke="#777777" stroke-width="1.1"/>
<text transform="translate(199.48 368.10) scale(0.92 1.33)" text-anchor="middle" class="tk">160.0</text>
<line x1="220.99" y1="358.8" x2="220.99" y2="361.10" stroke="#777777" stroke-width="1.1"/>
<text transform="translate(220.99 368.10) scale(0.92 1.33)" text-anchor="middle" class="tk">180.0</text>
<line x1="242.50" y1="358.8" x2="242.50" y2="361.10" stroke="#777777" stroke-width="1.1"/>
<text transform="translate(242.50 368.10) scale(0.92 1.33)" text-anchor="middle" class="tk">200.0</text>
<line x1="25.10" y1="358.80" x2="27.4" y2="358.80" stroke="#777777" stroke-width="1.1"/>
<text transform="translate(22.10 362.00) scale(0.92 1.33)" text-anchor="end" class="tk">0</text>
<line x1="25.10" y1="346.90" x2="27.4" y2="346.90" stroke="#777777" stroke-width="1.1"/>
<text transform="translate(22.10 350.10) scale(0.92 1.33)" text-anchor="end" class="tk">0.2</text>
<line x1="25.10" y1="335.00" x2="27.4" y2="335.00" stroke="#777777" stroke-width="1.1"/>
<text transform="translate(22.10 338.20) scale(0.92 1.33)" text-anchor="end" class="tk">0.4</text>
<line x1="25.10" y1="323.10" x2="27.4" y2="323.10" stroke="#777777" stroke-width="1.1"/>
<text transform="translate(22.10 326.30) scale(0.92 1.33)" text-anchor="end" class="tk">0.6</text>
<line x1="25.10" y1="311.20" x2="27.4" y2="311.20" stroke="#777777" stroke-width="1.1"/>
<text transform="translate(22.10 314.40) scale(0.92 1.33)" text-anchor="end" class="tk">0.8</text>
<line x1="25.10" y1="299.30" x2="27.4" y2="299.30" stroke="#777777" stroke-width="1.1"/>
<text transform="translate(22.10 302.50) scale(0.92 1.33)" text-anchor="end" class="tk">1.0</text>
<text x="137.70" y="292.30" text-anchor="middle" class="ti" textLength="75.8" lengthAdjust="spacingAndGlyphs">Accumulated Snow</text>
<text x="137.70" y="376.40" text-anchor="middle" class="xl" textLength="40.3" lengthAdjust="spacingAndGlyphs">Distance(m)</text>
<text x="10.10" y="327.56" text-anchor="middle" class="xl" transform="rotate(-90 10.10 327.56)" textLength="48.8" lengthAdjust="spacingAndGlyphs">Intensity value</text>
<line x1="319.5" y1="296.24" x2="319.5" y2="359.30" stroke="#777777" stroke-width="1.1"/>
<line x1="319.0" y1="358.8" x2="540.4" y2="358.8" stroke="#777777" stroke-width="1.1"/>
<line x1="319.50" y1="358.8" x2="319.50" y2="361.10" stroke="#777777" stroke-width="1.1"/>
<text transform="translate(319.50 368.10) scale(0.92 1.33)" text-anchor="middle" class="tk">0.0</text>
<line x1="341.14" y1="358.8" x2="341.14" y2="361.10" stroke="#777777" stroke-width="1.1"/>
<text transform="translate(341.14 368.10) scale(0.92 1.33)" text-anchor="middle" class="tk">10.0</text>
<line x1="362.78" y1="358.8" x2="362.78" y2="361.10" stroke="#777777" stroke-width="1.1"/>
<text transform="translate(362.78 368.10) scale(0.92 1.33)" text-anchor="middle" class="tk">20.0</text>
<line x1="384.42" y1="358.8" x2="384.42" y2="361.10" stroke="#777777" stroke-width="1.1"/>
<text transform="translate(384.42 368.10) scale(0.92 1.33)" text-anchor="middle" class="tk">30.0</text>
<line x1="406.06" y1="358.8" x2="406.06" y2="361.10" stroke="#777777" stroke-width="1.1"/>
<text transform="translate(406.06 368.10) scale(0.92 1.33)" text-anchor="middle" class="tk">40.0</text>
<line x1="427.70" y1="358.8" x2="427.70" y2="361.10" stroke="#777777" stroke-width="1.1"/>
<text transform="translate(427.70 368.10) scale(0.92 1.33)" text-anchor="middle" class="tk">50.0</text>
<line x1="449.34" y1="358.8" x2="449.34" y2="361.10" stroke="#777777" stroke-width="1.1"/>
<text transform="translate(449.34 368.10) scale(0.92 1.33)" text-anchor="middle" class="tk">60.0</text>
<line x1="470.98" y1="358.8" x2="470.98" y2="361.10" stroke="#777777" stroke-width="1.1"/>
<text transform="translate(470.98 368.10) scale(0.92 1.33)" text-anchor="middle" class="tk">70.0</text>
<line x1="492.62" y1="358.8" x2="492.62" y2="361.10" stroke="#777777" stroke-width="1.1"/>
<text transform="translate(492.62 368.10) scale(0.92 1.33)" text-anchor="middle" class="tk">80.0</text>
<line x1="514.26" y1="358.8" x2="514.26" y2="361.10" stroke="#777777" stroke-width="1.1"/>
<text transform="translate(514.26 368.10) scale(0.92 1.33)" text-anchor="middle" class="tk">90.0</text>
<line x1="535.90" y1="358.8" x2="535.90" y2="361.10" stroke="#777777" stroke-width="1.1"/>
<text transform="translate(535.90 368.10) scale(0.92 1.33)" text-anchor="middle" class="tk">100.0</text>
<line x1="317.20" y1="358.80" x2="319.5" y2="358.80" stroke="#777777" stroke-width="1.1"/>
<text transform="translate(314.20 362.00) scale(0.92 1.33)" text-anchor="end" class="tk">0</text>
<line x1="317.20" y1="339.37" x2="319.5" y2="339.37" stroke="#777777" stroke-width="1.1"/>
<text transform="translate(314.20 342.57) scale(0.92 1.33)" text-anchor="end" class="tk">0.1</text>
<line x1="317.20" y1="319.94" x2="319.5" y2="319.94" stroke="#777777" stroke-width="1.1"/>
<text transform="translate(314.20 323.14) scale(0.92 1.33)" text-anchor="end" class="tk">0.2</text>
<line x1="317.20" y1="300.51" x2="319.5" y2="300.51" stroke="#777777" stroke-width="1.1"/>
<text transform="translate(314.20 303.71) scale(0.92 1.33)" text-anchor="end" class="tk">0.3</text>
<text x="429.95" y="292.30" text-anchor="middle" class="ti" textLength="75.8" lengthAdjust="spacingAndGlyphs">Accumulated Snow</text>
<text x="429.95" y="376.40" text-anchor="middle" class="xl" textLength="40.3" lengthAdjust="spacingAndGlyphs">Distance(m)</text>
<text x="302.20" y="327.52" text-anchor="middle" class="xl" transform="rotate(-90 302.20 327.52)" textLength="48.8" lengthAdjust="spacingAndGlyphs">Intensity value</text>
<polygon points="28.54,452.80 28.94,452.22 29.54,451.88 30.38,451.70 31.63,451.70 32.52,451.91 33.12,452.25 33.52,452.80" fill="#ff0000"/>
<polygon points="33.12,452.80 33.62,452.25 34.36,452.19 35.11,452.80" fill="#ff0000"/>
<polygon points="34.86,452.80 35.36,452.49 38.59,452.43 39.08,452.80" fill="#ff0000"/>
<polygon points="41.67,452.80 41.97,452.10 42.57,451.70 43.16,451.51 43.86,451.76 44.26,452.25 44.55,452.80" fill="#ff0000"/>
<polygon points="63.35,452.80 63.70,452.40 65.44,452.31 66.43,451.94 67.03,452.10 67.43,452.80" fill="#ff0000"/>
<polygon points="103.48,452.80 103.97,452.10 104.47,451.79 105.22,451.70 105.71,452.10 106.11,452.80" fill="#ff0000"/>
<polygon points="44.31,452.80 44.80,452.31 46.54,452.25 47.04,452.80" fill="#ff0000"/>
<line x1="35.70" y1="449.95" x2="35.70" y2="452.80" stroke="#ff0000" stroke-width="1.7600000000000002"/>
<line x1="36.30" y1="449.34" x2="36.30" y2="452.80" stroke="#ff0000" stroke-width="1.7600000000000002"/>
<line x1="37.05" y1="448.51" x2="37.05" y2="452.80" stroke="#ff0000" stroke-width="1.7600000000000002"/>
<line x1="37.69" y1="449.34" x2="37.69" y2="452.80" stroke="#ff0000" stroke-width="1.7600000000000002"/>
<line x1="47.69" y1="447.81" x2="47.69" y2="452.80" stroke="#ff0000" stroke-width="1.6500000000000001"/>
<line x1="50.47" y1="446.28" x2="50.47" y2="452.80" stroke="#ff0000" stroke-width="1.6500000000000001"/>
<line x1="105.22" y1="450.56" x2="105.22" y2="452.80" stroke="#ff0000" stroke-width="1.6500000000000001"/>
<circle cx="43.06" cy="450.66" r="0.85" fill="#ff0000"/>
<circle cx="42.37" cy="451.09" r="0.85" fill="#ff0000"/>
<circle cx="43.91" cy="450.96" r="0.85" fill="#ff0000"/>
<circle cx="42.66" cy="450.72" r="0.85" fill="#ff0000"/>
<circle cx="41.82" cy="451.48" r="0.85" fill="#ff0000"/>
<circle cx="44.31" cy="451.39" r="0.85" fill="#ff0000"/>
<circle cx="66.53" cy="451.45" r="0.85" fill="#ff0000"/>
<circle cx="64.19" cy="451.88" r="0.85" fill="#ff0000"/>
<circle cx="38.29" cy="448.82" r="0.85" fill="#ff0000"/>
<circle cx="38.29" cy="449.80" r="0.85" fill="#ff0000"/>
<circle cx="38.29" cy="450.93" r="0.85" fill="#ff0000"/>
<circle cx="38.29" cy="451.67" r="0.85" fill="#ff0000"/>
<circle cx="35.75" cy="450.41" r="0.85" fill="#ff0000"/>
<circle cx="35.90" cy="451.64" r="0.85" fill="#ff0000"/>
<circle cx="37.39" cy="450.11" r="0.85" fill="#ff0000"/>
<circle cx="45.35" cy="450.07" r="0.85" fill="#ff0000"/>
<circle cx="46.15" cy="449.06" r="0.85" fill="#ff0000"/>
<circle cx="46.15" cy="452.03" r="0.85" fill="#ff0000"/>
<circle cx="48.68" cy="450.81" r="0.85" fill="#ff0000"/>
<circle cx="48.48" cy="449.80" r="0.85" fill="#ff0000"/>
<circle cx="47.29" cy="451.64" r="0.85" fill="#ff0000"/>
<circle cx="52.91" cy="450.81" r="0.85" fill="#ff0000"/>
<circle cx="52.51" cy="451.67" r="0.85" fill="#ff0000"/>
<circle cx="51.07" cy="452.16" r="0.85" fill="#ff0000"/>
<circle cx="53.50" cy="452.56" r="0.85" fill="#ff0000"/>
<circle cx="56.49" cy="452.16" r="0.85" fill="#ff0000"/>
<circle cx="60.32" cy="452.28" r="0.85" fill="#ff0000"/>
<circle cx="61.71" cy="447.72" r="0.85" fill="#ff0000"/>
<circle cx="61.71" cy="449.55" r="0.85" fill="#ff0000"/>
<circle cx="61.71" cy="452.16" r="0.85" fill="#ff0000"/>
<circle cx="63.75" cy="451.91" r="0.85" fill="#ff0000"/>
<circle cx="64.54" cy="452.28" r="0.85" fill="#ff0000"/>
<circle cx="72.25" cy="452.52" r="0.85" fill="#ff0000"/>
<circle cx="75.68" cy="445.70" r="0.85" fill="#ff0000"/>
<circle cx="75.68" cy="446.37" r="0.85" fill="#ff0000"/>
<circle cx="75.68" cy="447.99" r="0.85" fill="#ff0000"/>
<circle cx="75.68" cy="448.67" r="0.85" fill="#ff0000"/>
<circle cx="75.68" cy="449.34" r="0.85" fill="#ff0000"/>
<circle cx="75.68" cy="450.14" r="0.85" fill="#ff0000"/>
<circle cx="75.68" cy="450.81" r="0.85" fill="#ff0000"/>
<circle cx="75.68" cy="451.64" r="0.85" fill="#ff0000"/>
<circle cx="75.68" cy="451.97" r="0.85" fill="#ff0000"/>
<circle cx="80.35" cy="446.86" r="0.85" fill="#ff0000"/>
<circle cx="78.61" cy="447.93" r="0.85" fill="#ff0000"/>
<circle cx="79.56" cy="450.78" r="0.85" fill="#ff0000"/>
<circle cx="81.00" cy="451.27" r="0.85" fill="#ff0000"/>
<circle cx="82.09" cy="451.02" r="0.85" fill="#ff0000"/>
<circle cx="83.14" cy="450.14" r="0.85" fill="#ff0000"/>
<circle cx="81.00" cy="452.52" r="0.85" fill="#ff0000"/>
<circle cx="84.08" cy="451.76" r="0.85" fill="#ff0000"/>
<circle cx="85.03" cy="451.94" r="0.85" fill="#ff0000"/>
<circle cx="86.87" cy="450.78" r="0.85" fill="#ff0000"/>
<circle cx="87.66" cy="450.56" r="0.85" fill="#ff0000"/>
<circle cx="88.91" cy="449.43" r="0.85" fill="#ff0000"/>
<circle cx="90.15" cy="451.27" r="0.85" fill="#ff0000"/>
<circle cx="92.39" cy="451.27" r="0.85" fill="#ff0000"/>
<circle cx="99.35" cy="439.45" r="0.85" fill="#ff0000"/>
<circle cx="99.35" cy="440.15" r="0.85" fill="#ff0000"/>
<circle cx="99.35" cy="441.81" r="0.85" fill="#ff0000"/>
<circle cx="100.29" cy="442.51" r="0.85" fill="#ff0000"/>
<circle cx="99.35" cy="443.67" r="0.85" fill="#ff0000"/>
<circle cx="99.35" cy="447.75" r="0.85" fill="#ff0000"/>
<circle cx="99.35" cy="448.73" r="0.85" fill="#ff0000"/>
<circle cx="99.35" cy="449.13" r="0.85" fill="#ff0000"/>
<circle cx="99.35" cy="452.03" r="0.85" fill="#ff0000"/>
<circle cx="107.85" cy="452.43" r="0.85" fill="#ff0000"/>
<circle cx="104.97" cy="450.87" r="0.85" fill="#ff0000"/>
<circle cx="105.37" cy="451.18" r="0.85" fill="#ff0000"/>
<circle cx="104.47" cy="451.33" r="0.85" fill="#ff0000"/>
<circle cx="105.22" cy="450.56" r="0.85" fill="#ff0000"/>
<circle cx="120.28" cy="442.76" r="0.85" fill="#ff0000"/>
<circle cx="120.28" cy="447.96" r="0.85" fill="#ff0000"/>
<circle cx="120.28" cy="448.91" r="0.85" fill="#ff0000"/>
<circle cx="120.28" cy="449.80" r="0.85" fill="#ff0000"/>
<circle cx="120.28" cy="451.05" r="0.85" fill="#ff0000"/>
<circle cx="120.28" cy="451.45" r="0.85" fill="#ff0000"/>
<circle cx="120.28" cy="452.03" r="0.85" fill="#ff0000"/>
<circle cx="120.28" cy="452.40" r="0.85" fill="#ff0000"/>
<circle cx="123.76" cy="441.13" r="0.85" fill="#ff0000"/>
<circle cx="123.76" cy="442.76" r="0.85" fill="#ff0000"/>
<circle cx="123.76" cy="446.37" r="0.85" fill="#ff0000"/>
<circle cx="123.76" cy="447.75" r="0.85" fill="#ff0000"/>
<circle cx="123.76" cy="450.07" r="0.85" fill="#ff0000"/>
<circle cx="124.51" cy="452.16" r="0.85" fill="#ff0000"/>
<circle cx="126.85" cy="442.48" r="0.85" fill="#ff0000"/>
<circle cx="126.85" cy="449.09" r="0.85" fill="#ff0000"/>
<circle cx="126.85" cy="449.68" r="0.85" fill="#ff0000"/>
<circle cx="126.85" cy="450.29" r="0.85" fill="#ff0000"/>
<circle cx="126.85" cy="450.66" r="0.85" fill="#ff0000"/>
<circle cx="120.32" cy="393.30" r="0.9" fill="#ff0000"/>
<rect x="29.01" y="451.20" width="11.29" height="1.4" fill="#ff0000"/>
<rect x="40.84" y="451.40" width="4.84" height="1.2" fill="#ff0000"/>
<rect x="46.22" y="451.30" width="8.07" height="1.3" fill="#ff0000"/>
<rect x="55.36" y="451.60" width="4.30" height="1.0" fill="#ff0000"/>
<rect x="60.74" y="451.50" width="7.53" height="1.1" fill="#ff0000"/>
<rect x="69.34" y="451.60" width="6.45" height="1.0" fill="#ff0000"/>
<rect x="77.95" y="451.70" width="5.38" height="0.9" fill="#ff0000"/>
<rect x="84.40" y="451.70" width="7.53" height="0.9" fill="#ff0000"/>
<rect x="96.23" y="451.70" width="9.68" height="0.9" fill="#ff0000"/>
<rect x="118.82" y="451.70" width="8.60" height="0.9" fill="#ff0000"/>
<line x1="27.4" y1="434.95" x2="248.0" y2="434.95" stroke="#2ca02c" stroke-width="1.4" stroke-dasharray="3.6 1.6"/>
<line x1="134.95" y1="390.32" x2="134.95" y2="452.80" stroke="#2ca02c" stroke-width="1.4" stroke-dasharray="3.6 1.6"/>
<line x1="27.4" y1="390.32" x2="27.4" y2="453.30" stroke="#777777" stroke-width="1.1"/>
<line x1="26.9" y1="452.8" x2="248.0" y2="452.8" stroke="#777777" stroke-width="1.1"/>
<line x1="27.40" y1="452.8" x2="27.40" y2="455.10" stroke="#777777" stroke-width="1.1"/>
<text transform="translate(27.40 462.10) scale(0.92 1.33)" text-anchor="middle" class="tk">0.0</text>
<line x1="48.91" y1="452.8" x2="48.91" y2="455.10" stroke="#777777" stroke-width="1.1"/>
<text transform="translate(48.91 462.10) scale(0.92 1.33)" text-anchor="middle" class="tk">20.0</text>
<line x1="70.42" y1="452.8" x2="70.42" y2="455.10" stroke="#777777" stroke-width="1.1"/>
<text transform="translate(70.42 462.10) scale(0.92 1.33)" text-anchor="middle" class="tk">40.0</text>
<line x1="91.93" y1="452.8" x2="91.93" y2="455.10" stroke="#777777" stroke-width="1.1"/>
<text transform="translate(91.93 462.10) scale(0.92 1.33)" text-anchor="middle" class="tk">60.0</text>
<line x1="113.44" y1="452.8" x2="113.44" y2="455.10" stroke="#777777" stroke-width="1.1"/>
<text transform="translate(113.44 462.10) scale(0.92 1.33)" text-anchor="middle" class="tk">80.0</text>
<line x1="134.95" y1="452.8" x2="134.95" y2="455.10" stroke="#777777" stroke-width="1.1"/>
<text transform="translate(134.95 462.10) scale(0.92 1.33)" text-anchor="middle" class="tk">100.0</text>
<line x1="156.46" y1="452.8" x2="156.46" y2="455.10" stroke="#777777" stroke-width="1.1"/>
<text transform="translate(156.46 462.10) scale(0.92 1.33)" text-anchor="middle" class="tk">120.0</text>
<line x1="177.97" y1="452.8" x2="177.97" y2="455.10" stroke="#777777" stroke-width="1.1"/>
<text transform="translate(177.97 462.10) scale(0.92 1.33)" text-anchor="middle" class="tk">140.0</text>
<line x1="199.48" y1="452.8" x2="199.48" y2="455.10" stroke="#777777" stroke-width="1.1"/>
<text transform="translate(199.48 462.10) scale(0.92 1.33)" text-anchor="middle" class="tk">160.0</text>
<line x1="220.99" y1="452.8" x2="220.99" y2="455.10" stroke="#777777" stroke-width="1.1"/>
<text transform="translate(220.99 462.10) scale(0.92 1.33)" text-anchor="middle" class="tk">180.0</text>
<line x1="242.50" y1="452.8" x2="242.50" y2="455.10" stroke="#777777" stroke-width="1.1"/>
<text transform="translate(242.50 462.10) scale(0.92 1.33)" text-anchor="middle" class="tk">200.0</text>
<line x1="25.10" y1="452.80" x2="27.4" y2="452.80" stroke="#777777" stroke-width="1.1"/>
<text transform="translate(22.10 456.00) scale(0.92 1.33)" text-anchor="end" class="tk">0</text>
<line x1="25.10" y1="440.90" x2="27.4" y2="440.90" stroke="#777777" stroke-width="1.1"/>
<text transform="translate(22.10 444.10) scale(0.92 1.33)" text-anchor="end" class="tk">0.2</text>
<line x1="25.10" y1="429.00" x2="27.4" y2="429.00" stroke="#777777" stroke-width="1.1"/>
<text transform="translate(22.10 432.20) scale(0.92 1.33)" text-anchor="end" class="tk">0.4</text>
<line x1="25.10" y1="417.10" x2="27.4" y2="417.10" stroke="#777777" stroke-width="1.1"/>
<text transform="translate(22.10 420.30) scale(0.92 1.33)" text-anchor="end" class="tk">0.6</text>
<line x1="25.10" y1="405.20" x2="27.4" y2="405.20" stroke="#777777" stroke-width="1.1"/>
<text transform="translate(22.10 408.40) scale(0.92 1.33)" text-anchor="end" class="tk">0.8</text>
<line x1="25.10" y1="393.30" x2="27.4" y2="393.30" stroke="#777777" stroke-width="1.1"/>
<text transform="translate(22.10 396.50) scale(0.92 1.33)" text-anchor="end" class="tk">1.0</text>
<text x="137.70" y="386.30" text-anchor="middle" class="ti" textLength="43.0" lengthAdjust="spacingAndGlyphs">Snow Data</text>
<text x="137.70" y="470.40" text-anchor="middle" class="xl" textLength="40.3" lengthAdjust="spacingAndGlyphs">Distance(m)</text>
<text x="10.10" y="421.56" text-anchor="middle" class="xl" transform="rotate(-90 10.10 421.56)" textLength="48.8" lengthAdjust="spacingAndGlyphs">Intensity value</text>
<polygon points="321.80,452.80 322.60,450.90 323.80,449.80 325.50,449.20 328.00,449.20 329.80,449.90 331.00,451.00 331.80,452.80" fill="#ff0000"/>
<polygon points="331.00,452.80 332.00,451.00 333.50,450.80 335.00,452.80" fill="#ff0000"/>
<polygon points="334.50,452.80 335.50,451.80 342.00,451.60 343.00,452.80" fill="#ff0000"/>
<polygon points="348.20,452.80 348.80,450.50 350.00,449.20 351.20,448.60 352.60,449.40 353.40,451.00 354.00,452.80" fill="#ff0000"/>
<polygon points="391.80,452.80 392.50,451.50 396.00,451.20 398.00,450.00 399.20,450.50 400.00,452.80" fill="#ff0000"/>
<polygon points="472.50,452.80 473.50,450.50 474.50,449.50 476.00,449.20 477.00,450.50 477.80,452.80" fill="#ff0000"/>
<polygon points="353.50,452.80 354.50,451.20 358.00,451.00 359.00,452.80" fill="#ff0000"/>
<line x1="336.20" y1="444.50" x2="336.20" y2="452.80" stroke="#ff0000" stroke-width="1.1"/>
<circle cx="336.52" cy="444.10" r="0.85" fill="#ff0000"/>
<circle cx="336.22" cy="446.03" r="0.85" fill="#ff0000"/>
<circle cx="336.23" cy="447.80" r="0.85" fill="#ff0000"/>
<circle cx="335.94" cy="449.27" r="0.85" fill="#ff0000"/>
<circle cx="336.19" cy="450.62" r="0.85" fill="#ff0000"/>
<circle cx="336.29" cy="452.04" r="0.85" fill="#ff0000"/>
<line x1="337.40" y1="442.50" x2="337.40" y2="452.80" stroke="#ff0000" stroke-width="1.1"/>
<circle cx="337.22" cy="442.10" r="0.85" fill="#ff0000"/>
<circle cx="337.37" cy="443.98" r="0.85" fill="#ff0000"/>
<circle cx="337.72" cy="445.66" r="0.85" fill="#ff0000"/>
<circle cx="337.28" cy="447.45" r="0.85" fill="#ff0000"/>
<circle cx="337.09" cy="449.40" r="0.85" fill="#ff0000"/>
<circle cx="337.47" cy="451.16" r="0.85" fill="#ff0000"/>
<circle cx="337.39" cy="452.66" r="0.85" fill="#ff0000"/>
<line x1="338.90" y1="439.80" x2="338.90" y2="452.80" stroke="#ff0000" stroke-width="1.1"/>
<circle cx="339.01" cy="439.40" r="0.85" fill="#ff0000"/>
<circle cx="338.90" cy="441.14" r="0.85" fill="#ff0000"/>
<circle cx="339.22" cy="442.46" r="0.85" fill="#ff0000"/>
<circle cx="338.95" cy="444.33" r="0.85" fill="#ff0000"/>
<circle cx="338.64" cy="446.02" r="0.85" fill="#ff0000"/>
<circle cx="339.24" cy="447.63" r="0.85" fill="#ff0000"/>
<circle cx="338.97" cy="449.28" r="0.85" fill="#ff0000"/>
<circle cx="339.13" cy="451.21" r="0.85" fill="#ff0000"/>
<line x1="340.20" y1="442.50" x2="340.20" y2="452.80" stroke="#ff0000" stroke-width="1.1"/>
<circle cx="340.39" cy="442.10" r="0.85" fill="#ff0000"/>
<circle cx="340.06" cy="444.06" r="0.85" fill="#ff0000"/>
<circle cx="339.88" cy="445.45" r="0.85" fill="#ff0000"/>
<circle cx="340.42" cy="446.69" r="0.85" fill="#ff0000"/>
<circle cx="340.24" cy="447.96" r="0.85" fill="#ff0000"/>
<circle cx="340.46" cy="449.92" r="0.85" fill="#ff0000"/>
<circle cx="340.15" cy="451.56" r="0.85" fill="#ff0000"/>
<line x1="360.30" y1="437.50" x2="360.30" y2="452.80" stroke="#ff0000" stroke-width="1.1"/>
<circle cx="360.07" cy="437.10" r="0.85" fill="#ff0000"/>
<circle cx="360.40" cy="438.45" r="0.85" fill="#ff0000"/>
<circle cx="360.44" cy="440.30" r="0.85" fill="#ff0000"/>
<circle cx="360.28" cy="441.73" r="0.85" fill="#ff0000"/>
<circle cx="360.38" cy="443.47" r="0.85" fill="#ff0000"/>
<circle cx="360.40" cy="444.93" r="0.85" fill="#ff0000"/>
<circle cx="359.97" cy="446.93" r="0.85" fill="#ff0000"/>
<circle cx="360.55" cy="448.31" r="0.85" fill="#ff0000"/>
<circle cx="360.26" cy="450.12" r="0.85" fill="#ff0000"/>
<circle cx="360.50" cy="451.44" r="0.85" fill="#ff0000"/>
<line x1="365.90" y1="432.50" x2="365.90" y2="452.80" stroke="#ff0000" stroke-width="1.1"/>
<circle cx="366.05" cy="432.10" r="0.85" fill="#ff0000"/>
<circle cx="365.64" cy="433.65" r="0.85" fill="#ff0000"/>
<circle cx="365.80" cy="435.13" r="0.85" fill="#ff0000"/>
<circle cx="365.75" cy="436.40" r="0.85" fill="#ff0000"/>
<circle cx="365.86" cy="438.09" r="0.85" fill="#ff0000"/>
<circle cx="365.92" cy="440.10" r="0.85" fill="#ff0000"/>
<circle cx="365.62" cy="441.99" r="0.85" fill="#ff0000"/>
<circle cx="365.96" cy="443.68" r="0.85" fill="#ff0000"/>
<circle cx="365.81" cy="445.42" r="0.85" fill="#ff0000"/>
<circle cx="366.18" cy="446.89" r="0.85" fill="#ff0000"/>
<circle cx="365.79" cy="448.30" r="0.85" fill="#ff0000"/>
<circle cx="366.24" cy="450.30" r="0.85" fill="#ff0000"/>
<circle cx="366.03" cy="451.90" r="0.85" fill="#ff0000"/>
<line x1="476.00" y1="446.50" x2="476.00" y2="452.80" stroke="#ff0000" stroke-width="1.1"/>
<circle cx="476.14" cy="446.10" r="0.85" fill="#ff0000"/>
<circle cx="476.00" cy="447.32" r="0.85" fill="#ff0000"/>
<circle cx="476.16" cy="449.09" r="0.85" fill="#ff0000"/>
<circle cx="476.30" cy="451.07" r="0.85" fill="#ff0000"/>
<circle cx="351.00" cy="445.80" r="0.85" fill="#ff0000"/>
<circle cx="349.60" cy="447.20" r="0.85" fill="#ff0000"/>
<circle cx="352.70" cy="446.80" r="0.85" fill="#ff0000"/>
<circle cx="350.20" cy="446.00" r="0.85" fill="#ff0000"/>
<circle cx="348.50" cy="448.50" r="0.85" fill="#ff0000"/>
<circle cx="353.50" cy="448.20" r="0.85" fill="#ff0000"/>
<circle cx="398.20" cy="448.40" r="0.85" fill="#ff0000"/>
<circle cx="393.50" cy="449.80" r="0.85" fill="#ff0000"/>
<circle cx="341.40" cy="439.80" r="0.85" fill="#ff0000"/>
<circle cx="341.40" cy="443.00" r="0.85" fill="#ff0000"/>
<circle cx="341.40" cy="446.70" r="0.85" fill="#ff0000"/>
<circle cx="341.40" cy="449.10" r="0.85" fill="#ff0000"/>
<circle cx="336.30" cy="445.00" r="0.85" fill="#ff0000"/>
<circle cx="336.60" cy="449.00" r="0.85" fill="#ff0000"/>
<circle cx="339.60" cy="444.00" r="0.85" fill="#ff0000"/>
<circle cx="355.60" cy="443.90" r="0.85" fill="#ff0000"/>
<circle cx="357.20" cy="440.60" r="0.85" fill="#ff0000"/>
<circle cx="357.20" cy="450.30" r="0.85" fill="#ff0000"/>
<circle cx="362.30" cy="446.30" r="0.85" fill="#ff0000"/>
<circle cx="361.90" cy="443.00" r="0.85" fill="#ff0000"/>
<circle cx="359.50" cy="449.00" r="0.85" fill="#ff0000"/>
<circle cx="370.80" cy="446.30" r="0.85" fill="#ff0000"/>
<circle cx="370.00" cy="449.10" r="0.85" fill="#ff0000"/>
<circle cx="367.10" cy="450.70" r="0.85" fill="#ff0000"/>
<circle cx="372.00" cy="452.00" r="0.85" fill="#ff0000"/>
<circle cx="378.00" cy="450.70" r="0.85" fill="#ff0000"/>
<circle cx="385.70" cy="451.10" r="0.85" fill="#ff0000"/>
<circle cx="388.50" cy="436.20" r="0.85" fill="#ff0000"/>
<circle cx="388.50" cy="442.20" r="0.85" fill="#ff0000"/>
<circle cx="388.50" cy="450.70" r="0.85" fill="#ff0000"/>
<circle cx="392.60" cy="449.90" r="0.85" fill="#ff0000"/>
<circle cx="394.20" cy="451.10" r="0.85" fill="#ff0000"/>
<circle cx="409.70" cy="451.90" r="0.85" fill="#ff0000"/>
<circle cx="416.60" cy="429.60" r="0.85" fill="#ff0000"/>
<circle cx="416.60" cy="431.80" r="0.85" fill="#ff0000"/>
<circle cx="416.60" cy="437.10" r="0.85" fill="#ff0000"/>
<circle cx="416.60" cy="439.30" r="0.85" fill="#ff0000"/>
<circle cx="416.60" cy="441.50" r="0.85" fill="#ff0000"/>
<circle cx="416.60" cy="444.10" r="0.85" fill="#ff0000"/>
<circle cx="416.60" cy="446.30" r="0.85" fill="#ff0000"/>
<circle cx="416.60" cy="449.00" r="0.85" fill="#ff0000"/>
<circle cx="416.60" cy="450.10" r="0.85" fill="#ff0000"/>
<circle cx="426.00" cy="433.40" r="0.85" fill="#ff0000"/>
<circle cx="422.50" cy="436.90" r="0.85" fill="#ff0000"/>
<circle cx="424.40" cy="446.20" r="0.85" fill="#ff0000"/>
<circle cx="427.30" cy="447.80" r="0.85" fill="#ff0000"/>
<circle cx="429.50" cy="447.00" r="0.85" fill="#ff0000"/>
<circle cx="431.60" cy="444.10" r="0.85" fill="#ff0000"/>
<circle cx="427.30" cy="451.90" r="0.85" fill="#ff0000"/>
<circle cx="433.50" cy="449.40" r="0.85" fill="#ff0000"/>
<circle cx="435.40" cy="450.00" r="0.85" fill="#ff0000"/>
<circle cx="439.10" cy="446.20" r="0.85" fill="#ff0000"/>
<circle cx="440.70" cy="445.50" r="0.85" fill="#ff0000"/>
<circle cx="443.20" cy="441.80" r="0.85" fill="#ff0000"/>
<circle cx="445.70" cy="447.80" r="0.85" fill="#ff0000"/>
<circle cx="450.20" cy="447.80" r="0.85" fill="#ff0000"/>
<circle cx="464.20" cy="409.20" r="0.85" fill="#ff0000"/>
<circle cx="464.20" cy="411.50" r="0.85" fill="#ff0000"/>
<circle cx="464.20" cy="416.90" r="0.85" fill="#ff0000"/>
<circle cx="466.10" cy="419.20" r="0.85" fill="#ff0000"/>
<circle cx="464.20" cy="423.00" r="0.85" fill="#ff0000"/>
<circle cx="464.20" cy="436.30" r="0.85" fill="#ff0000"/>
<circle cx="464.20" cy="439.50" r="0.85" fill="#ff0000"/>
<circle cx="464.20" cy="440.80" r="0.85" fill="#ff0000"/>
<circle cx="464.20" cy="450.30" r="0.85" fill="#ff0000"/>
<circle cx="481.30" cy="451.60" r="0.85" fill="#ff0000"/>
<circle cx="475.50" cy="446.50" r="0.85" fill="#ff0000"/>
<circle cx="476.30" cy="447.50" r="0.85" fill="#ff0000"/>
<circle cx="474.50" cy="448.00" r="0.85" fill="#ff0000"/>
<circle cx="476.00" cy="445.50" r="0.85" fill="#ff0000"/>
<circle cx="506.30" cy="420.00" r="0.85" fill="#ff0000"/>
<circle cx="506.30" cy="437.00" r="0.85" fill="#ff0000"/>
<circle cx="506.30" cy="440.10" r="0.85" fill="#ff0000"/>
<circle cx="506.30" cy="443.00" r="0.85" fill="#ff0000"/>
<circle cx="506.30" cy="447.10" r="0.85" fill="#ff0000"/>
<circle cx="506.30" cy="448.40" r="0.85" fill="#ff0000"/>
<circle cx="506.30" cy="450.30" r="0.85" fill="#ff0000"/>
<circle cx="506.30" cy="451.50" r="0.85" fill="#ff0000"/>
<circle cx="513.30" cy="414.70" r="0.85" fill="#ff0000"/>
<circle cx="513.30" cy="420.00" r="0.85" fill="#ff0000"/>
<circle cx="513.30" cy="431.80" r="0.85" fill="#ff0000"/>
<circle cx="513.30" cy="436.30" r="0.85" fill="#ff0000"/>
<circle cx="513.30" cy="443.90" r="0.85" fill="#ff0000"/>
<circle cx="514.80" cy="450.70" r="0.85" fill="#ff0000"/>
<circle cx="519.50" cy="419.10" r="0.85" fill="#ff0000"/>
<circle cx="519.50" cy="440.70" r="0.85" fill="#ff0000"/>
<circle cx="519.50" cy="442.60" r="0.85" fill="#ff0000"/>
<circle cx="519.50" cy="444.60" r="0.85" fill="#ff0000"/>
<circle cx="519.50" cy="445.80" r="0.85" fill="#ff0000"/>
<line x1="319.5" y1="390.24" x2="319.5" y2="453.30" stroke="#777777" stroke-width="1.1"/>
<line x1="319.0" y1="452.8" x2="540.4" y2="452.8" stroke="#777777" stroke-width="1.1"/>
<line x1="319.50" y1="452.8" x2="319.50" y2="455.10" stroke="#777777" stroke-width="1.1"/>
<text transform="translate(319.50 462.10) scale(0.92 1.33)" text-anchor="middle" class="tk">0.0</text>
<line x1="341.14" y1="452.8" x2="341.14" y2="455.10" stroke="#777777" stroke-width="1.1"/>
<text transform="translate(341.14 462.10) scale(0.92 1.33)" text-anchor="middle" class="tk">10.0</text>
<line x1="362.78" y1="452.8" x2="362.78" y2="455.10" stroke="#777777" stroke-width="1.1"/>
<text transform="translate(362.78 462.10) scale(0.92 1.33)" text-anchor="middle" class="tk">20.0</text>
<line x1="384.42" y1="452.8" x2="384.42" y2="455.10" stroke="#777777" stroke-width="1.1"/>
<text transform="translate(384.42 462.10) scale(0.92 1.33)" text-anchor="middle" class="tk">30.0</text>
<line x1="406.06" y1="452.8" x2="406.06" y2="455.10" stroke="#777777" stroke-width="1.1"/>
<text transform="translate(406.06 462.10) scale(0.92 1.33)" text-anchor="middle" class="tk">40.0</text>
<line x1="427.70" y1="452.8" x2="427.70" y2="455.10" stroke="#777777" stroke-width="1.1"/>
<text transform="translate(427.70 462.10) scale(0.92 1.33)" text-anchor="middle" class="tk">50.0</text>
<line x1="449.34" y1="452.8" x2="449.34" y2="455.10" stroke="#777777" stroke-width="1.1"/>
<text transform="translate(449.34 462.10) scale(0.92 1.33)" text-anchor="middle" class="tk">60.0</text>
<line x1="470.98" y1="452.8" x2="470.98" y2="455.10" stroke="#777777" stroke-width="1.1"/>
<text transform="translate(470.98 462.10) scale(0.92 1.33)" text-anchor="middle" class="tk">70.0</text>
<line x1="492.62" y1="452.8" x2="492.62" y2="455.10" stroke="#777777" stroke-width="1.1"/>
<text transform="translate(492.62 462.10) scale(0.92 1.33)" text-anchor="middle" class="tk">80.0</text>
<line x1="514.26" y1="452.8" x2="514.26" y2="455.10" stroke="#777777" stroke-width="1.1"/>
<text transform="translate(514.26 462.10) scale(0.92 1.33)" text-anchor="middle" class="tk">90.0</text>
<line x1="535.90" y1="452.8" x2="535.90" y2="455.10" stroke="#777777" stroke-width="1.1"/>
<text transform="translate(535.90 462.10) scale(0.92 1.33)" text-anchor="middle" class="tk">100.0</text>
<line x1="317.20" y1="452.80" x2="319.5" y2="452.80" stroke="#777777" stroke-width="1.1"/>
<text transform="translate(314.20 456.00) scale(0.92 1.33)" text-anchor="end" class="tk">0</text>
<line x1="317.20" y1="433.37" x2="319.5" y2="433.37" stroke="#777777" stroke-width="1.1"/>
<text transform="translate(314.20 436.57) scale(0.92 1.33)" text-anchor="end" class="tk">0.1</text>
<line x1="317.20" y1="413.94" x2="319.5" y2="413.94" stroke="#777777" stroke-width="1.1"/>
<text transform="translate(314.20 417.14) scale(0.92 1.33)" text-anchor="end" class="tk">0.2</text>
<line x1="317.20" y1="394.51" x2="319.5" y2="394.51" stroke="#777777" stroke-width="1.1"/>
<text transform="translate(314.20 397.71) scale(0.92 1.33)" text-anchor="end" class="tk">0.3</text>
<text x="429.95" y="386.30" text-anchor="middle" class="ti" textLength="43.0" lengthAdjust="spacingAndGlyphs">Snow Data</text>
<text x="429.95" y="470.40" text-anchor="middle" class="xl" textLength="40.3" lengthAdjust="spacingAndGlyphs">Distance(m)</text>
<text x="302.20" y="421.52" text-anchor="middle" class="xl" transform="rotate(-90 302.20 421.52)" textLength="48.8" lengthAdjust="spacingAndGlyphs">Intensity value</text>
<text x="278" y="488.6" text-anchor="middle" style="font-family:'Liberation Serif',serif;font-weight:bold;font-size:11.3px;fill:#111">(a)</text>
</svg></body></html>
